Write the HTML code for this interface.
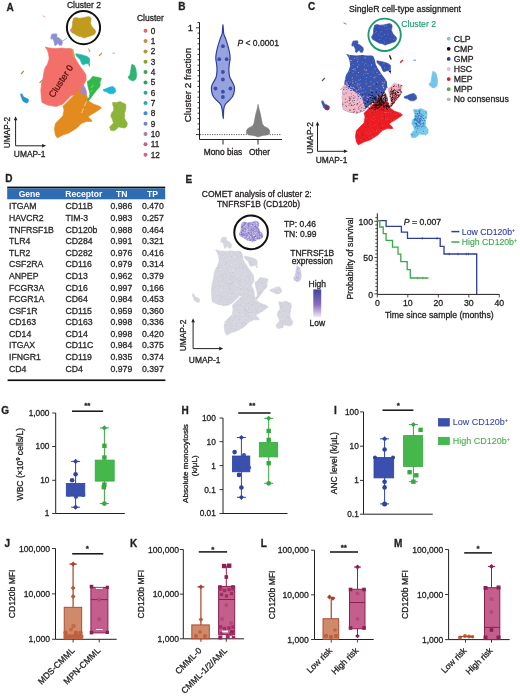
<!DOCTYPE html>
<html><head><meta charset="utf-8"><style>
html,body{margin:0;padding:0;background:#fff;width:520px;height:696px;overflow:hidden}
svg{display:block;filter:blur(0.4px)}
text{font-family:"Liberation Sans",sans-serif}
.s text,text.s{stroke:#231f20;stroke-width:0.3}
.b{font-weight:bold}
</style></head><body>
<svg width="520" height="696" viewBox="0 0 520 696" fill="#231f20" class="s">
<defs>
<path id="c0" d="M45.2,46.9 L49.2,48 L55.4,48.6 L61.5,48 L65.4,48.6 L70.8,48.4 L72.5,49.4 L73.8,53 L74.8,57.5 L76.8,61.2 L78.5,63.8 L80.2,66.4 L82.2,69.2 L84.2,71.9 L85.9,74.6 L86.2,80 L84.6,83 L82.3,87 L80.8,91.7 L79,93.7 L71,95.8 L62.9,104 L56.2,106.5 L48,105.2 L42,102.5 L41.3,97.7 L40.8,90 L41.5,84 L43.2,77 L44.1,70.9 L45.2,67.4 L47,65.1 L48.1,62.2 L49,59.3 L49,57 L48.4,53.6 L47.6,50.7 Z"/>
<path id="c1" d="M63,106.2 L68.8,100.4 L76.5,92.7 L81.3,86.9 L83.5,88 L85.5,92 L87.1,96.5 L88,100.4 L93.8,104.2 L99.6,106.2 L101.5,108 L95.8,111.9 L91,114.8 L88,116.7 L91,119.6 L92,121.5 L86.2,121.5 L81.3,123.5 L76.5,128.3 L68.8,133.1 L63,135 L57.3,137.9 L55.4,135 L54.4,129.2 L55.4,123.5 L59.2,119.6 L63,115.8 L64,110 Z"/>
<path id="c2" d="M73.5,18.2 L75.8,17.6 L79.1,18.2 L82.3,17.9 L85.6,17.2 L88.5,16.6 L90.5,17.2 L91.2,18.9 L90.8,21.2 L90.5,23.4 L91.5,25.7 L92.8,27.7 L94.8,29.6 L95.7,31.6 L95.1,33.6 L93.5,34.9 L91.5,35.5 L88.9,36.5 L86.3,37.2 L84.6,38.1 L83.3,37.8 L82.3,37.2 L80.4,36.5 L78.4,36.2 L76.5,35.2 L74.5,33.9 L72.5,32.9 L70.9,31.6 L70.6,29.6 L71.9,27.7 L72.5,25.1 L72.5,22.5 L73.2,19.8 Z"/>
<path id="c3" d="M112.7,102.3 L116.2,102.7 L120,101.5 L123.1,103.1 L125.8,104.2 L125.8,109.2 L124.6,113.1 L124.6,118.5 L127.3,123.1 L126.9,126.2 L124.6,128.1 L122.3,127.7 L118.5,126.9 L116.5,129.2 L113.8,130.8 L110.8,130.4 L109.6,126.9 L111.5,125 L113.5,123.1 L112.3,119.2 L110.8,116.2 L111.5,113.1 L113.5,110.8 L113.8,107.7 L112.7,104.6 Z"/>
<path id="c4" d="M92.8,76.3 L95.7,76.9 L99.1,77.5 L101.4,78.4 L100.9,80.1 L100,82.4 L100.3,85.3 L99.1,87.6 L96.8,89.9 L95.1,92.2 L93.3,94.5 L91.6,96.9 L89.9,99.2 L88.1,100.9 L87.6,99.2 L89.3,96.9 L89.9,94 L89.3,91.1 L88.4,88.2 L87.6,84.7 L87.3,81.2 L88.7,80.7 L90.2,79.5 L91.6,77.8 Z"/>
<path id="c5" d="M131.9,64.2 L134.6,65.6 L136,69.6 L136.6,75 L136,79 L133.3,81 L131.2,80.4 L129.2,79 L127.9,77 L129.9,75 L130.6,71 L131.2,66.9 Z"/>
<path id="c6" d="M75.8,53.7 L80.2,54.4 L84.2,55.4 L87.6,56.8 L89.6,58.5 L89.6,61.2 L89.3,63.2 L89.6,66.5 L88.3,63.8 L85.6,63.8 L82.9,64.9 L81.5,63.2 L80.2,59.8 L78.2,57.8 L76.2,55.8 Z"/>
<path id="c7" d="M103,89.8 L106.3,88.5 L109.7,87.1 L113.1,86.4 L115.1,88.5 L115.8,91.8 L113.1,93.8 L109.7,93.8 L106.3,91.8 L103.6,91.1 Z"/>
<path id="c8" d="M20.8,93.8 L22.3,94.2 L23.5,96.9 L26.2,98.1 L28.5,99.6 L28.1,102.3 L26.2,103.1 L24.2,101.9 L22.7,100.8 L21.9,98.5 L20.8,95.8 Z"/>
<path id="c9" d="M52.2,34 L56.5,33.8 L57.1,35.5 L56.5,36.8 L58.2,37.6 L60.3,38.9 L62,40.6 L62.4,42.7 L61.6,45.3 L59.4,45.3 L58.6,43.6 L56.9,44 L55.6,45.7 L54.4,44.8 L54.4,42.7 L53.5,40.2 L52.2,38.5 L51,39.3 L50.8,37.6 L51.4,35.5 Z"/>
<path id="c10" d="M82.9,84.7 L84.7,87 L86.1,90.5 L86.7,93.4 L85.2,94.5 L82.9,94.5 L81.2,93.4 L80.6,91.1 L81.5,87.6 Z"/>
</defs>

<!-- ===== Panel A ===== -->
<g id="pA">
<text class="b" x="6.5" y="10.5" font-size="10">A</text>
<g stroke-linejoin="round" stroke-width="0.6">
<use href="#c0" fill="#f3706a" stroke="#f3706a"/>
<use href="#c1" fill="#e38b1f" stroke="#e38b1f"/>
<use href="#c2" fill="#c09b1e" stroke="#c09b1e"/>
<use href="#c3" fill="#8cb33a" stroke="#8cb33a"/>
<use href="#c4" fill="#30b848" stroke="#30b848"/>
<use href="#c5" fill="#2fb475" stroke="#2fb475"/>
<use href="#c6" fill="#22b6a2" stroke="#22b6a2"/>
<use href="#c7" fill="#1cb6d8" stroke="#1cb6d8"/>
<use href="#c8" fill="#2494cf" stroke="#2494cf"/>
<use href="#c9" fill="#8a90d6" stroke="#8a90d6"/>
<use href="#c10" fill="#a984cc" stroke="#a984cc"/>
</g>
<path d="M62,41.5 L67,38" stroke="#8a90d6" stroke-width="0.7"/>
<ellipse cx="71.8" cy="30.3" rx="1.4" ry="1.3" fill="#e88098"/>
<path d="M91,88 L93.5,85 M90.5,92 L92.5,90" stroke="#80d870" stroke-width="1"/>
<path d="M72.5,49 L74,57" stroke="#a8c040" stroke-width="1.6"/>
<path d="M86.5,101.5 L84.5,106 M83.5,108.5 L81.5,113" stroke="#fff" stroke-width="0.7" opacity="0.8"/>
<path d="M88.5,48.5 L90,52" stroke="#c08a50" stroke-width="1"/>
<path d="M99,56 L102,52.8" stroke="#e38b1f" stroke-width="1.2"/>
<path d="M112.5,53.2 L115,53.2" stroke="#e090a0" stroke-width="0.9"/>
<path d="M21,74 L23.8,71" stroke="#9a9a50" stroke-width="1.1"/>
<path d="M39.5,83 L42.3,80.2" stroke="#9a9a40" stroke-width="1.1"/>
<path d="M42.5,15.8 L45.5,17.2" stroke="#e8a0b8" stroke-width="0.8"/>
<circle cx="83.5" cy="27.6" r="16.6" fill="none" stroke="#111" stroke-width="2"/>
<text x="84" y="7.8" font-size="8.5" text-anchor="middle">Cluster 2</text>
<text font-size="9.2" transform="translate(53.6,98.2) rotate(-57)" fill="#5a1414" style="stroke:#5a1414">Cluster 0</text>
<!-- axes -->
<path d="M15.6,145.8 V119.5 M15.6,145.8 H43" stroke="#222" stroke-width="1"/>
<path d="M15.6,116.3 L13.8,120.3 L17.4,120.3 Z M46.1,145.8 L42.1,144 L42.1,147.6 Z" fill="#222"/>
<text font-size="8.3" transform="translate(9.7,132.5) rotate(-90)" text-anchor="middle">UMAP-2</text>
<text x="29.7" y="156.7" font-size="8.4" text-anchor="middle">UMAP-1</text>
<!-- legend -->
<text x="136.9" y="21.2" font-size="8.5">Cluster</text>
<g font-size="8.2">
<circle cx="145.5" cy="30.7" r="2" fill="#e06870"/><text x="150.7" y="33.6">0</text>
<circle cx="145.5" cy="41.0" r="2" fill="#d08840"/><text x="150.7" y="43.9">1</text>
<circle cx="145.5" cy="51.4" r="2" fill="#a89848"/><text x="150.7" y="54.3">2</text>
<circle cx="145.5" cy="61.7" r="2" fill="#88a034"/><text x="150.7" y="64.6">3</text>
<circle cx="145.5" cy="72.0" r="2" fill="#40a050"/><text x="150.7" y="74.9">4</text>
<circle cx="145.5" cy="82.4" r="2" fill="#30a064"/><text x="150.7" y="85.3">5</text>
<circle cx="145.5" cy="92.7" r="2" fill="#30a896"/><text x="150.7" y="95.6">6</text>
<circle cx="145.5" cy="103.0" r="2" fill="#20acbc"/><text x="150.7" y="105.9">7</text>
<circle cx="145.5" cy="113.3" r="2" fill="#3a90d0"/><text x="150.7" y="116.2">8</text>
<circle cx="145.5" cy="123.7" r="2" fill="#7880c8"/><text x="150.7" y="126.6">9</text>
<circle cx="145.5" cy="134.0" r="2" fill="#a080a8"/><text x="150.7" y="136.9">10</text>
<circle cx="145.5" cy="144.3" r="2" fill="#c06090"/><text x="150.7" y="147.2">11</text>
<circle cx="145.5" cy="154.7" r="2" fill="#c86890"/><text x="150.7" y="157.6">12</text>
</g>
</g>

<!-- ===== Panel B ===== -->
<g id="pB">
<text class="b" x="178.3" y="10" font-size="10">B</text>
<path d="M199.5,22.4 V139.5 H282 M258,139.5 V144.5 M223,139.5 V144.5" stroke="#231f20" stroke-width="1" fill="none"/>
<path stroke="#231f20" stroke-width="0.9" d="M196,27.8 H199.5 M196,134.6 H199.5 M197.5,22.5 H199.5 M197.5,33.1 H199.5 M197.5,38.5 H199.5 M197.5,43.8 H199.5 M197.5,49.1 H199.5 M197.5,54.5 H199.5 M197.5,59.8 H199.5 M197.5,65.2 H199.5 M197.5,70.5 H199.5 M197.5,75.8 H199.5 M197.5,81.2 H199.5 M197.5,86.5 H199.5 M197.5,91.9 H199.5 M197.5,97.2 H199.5 M197.5,102.5 H199.5 M197.5,107.9 H199.5 M197.5,113.2 H199.5 M197.5,118.6 H199.5 M197.5,123.9 H199.5 M197.5,129.2 H199.5"/>
<text x="193" y="31.3" font-size="9.5" text-anchor="end">1</text>
<text font-size="9.9" transform="translate(190.5,85) rotate(-90)" text-anchor="middle">Cluster 2 fraction</text>
<line x1="200" y1="134.6" x2="281" y2="134.6" stroke="#333" stroke-width="0.8" stroke-dasharray="1.2,1.2"/>
<!-- violin mono -->
<path d="M222.95,24.50 C223.20,24.50 223.21,31.02 223.70,33.50 C224.19,35.98 225.15,37.17 225.90,39.40 C226.65,41.63 227.57,44.53 228.20,46.90 C228.83,49.27 229.38,51.60 229.70,53.60 C230.02,55.60 230.18,57.03 230.10,58.90 C230.02,60.77 229.40,62.82 229.20,64.80 C229.00,66.78 228.82,68.80 228.90,70.80 C228.98,72.80 229.20,75.05 229.70,76.80 C230.20,78.55 231.17,79.80 231.90,81.30 C232.63,82.80 233.68,84.30 234.10,85.80 C234.52,87.30 234.63,88.57 234.40,90.30 C234.17,92.03 233.62,94.47 232.70,96.20 C231.78,97.93 230.15,99.32 228.90,100.70 C227.65,102.08 226.07,103.00 225.20,104.50 C224.33,106.00 224.02,107.33 223.70,109.70 C223.38,112.07 223.55,118.70 223.30,118.70 C223.05,118.70 222.63,112.07 222.20,109.70 C221.77,107.33 221.57,106.00 220.70,104.50 C219.83,103.00 218.25,102.08 217.00,100.70 C215.75,99.32 214.12,97.93 213.20,96.20 C212.28,94.47 211.73,92.03 211.50,90.30 C211.27,88.57 211.38,87.30 211.80,85.80 C212.22,84.30 213.27,82.80 214.00,81.30 C214.73,79.80 215.70,78.55 216.20,76.80 C216.70,75.05 216.92,72.80 217.00,70.80 C217.08,68.80 216.90,66.78 216.70,64.80 C216.50,62.82 215.88,60.77 215.80,58.90 C215.72,57.03 215.88,55.60 216.20,53.60 C216.52,51.60 217.07,49.27 217.70,46.90 C218.33,44.53 219.25,41.63 220.00,39.40 C220.75,37.17 221.71,35.98 222.20,33.50 C222.69,31.02 222.70,24.50 222.95,24.50 Z" fill="#97a3de" stroke="#2e3e9e" stroke-width="1.2"/>
<g fill="#3a4cae">
<circle cx="222.9" cy="46.2" r="1.9"/><circle cx="219.2" cy="59.2" r="1.9"/><circle cx="226.7" cy="59.2" r="1.9"/><circle cx="222.9" cy="72" r="1.9"/><circle cx="222.9" cy="79.5" r="1.9"/><circle cx="215.5" cy="88.5" r="1.9"/><circle cx="230.4" cy="88.5" r="1.9"/><circle cx="222.9" cy="91.7" r="1.9"/><circle cx="222.9" cy="97" r="1.9"/>
</g>
<!-- violin other -->
<path d="M258.1,104.3 L259.2,109.4 L260.5,114.2 L261.4,119 L262.4,123.8 L264,126.3 L266.7,127.4 L268.6,128.8 L269.8,130.8 L269.6,133.6 L267,134.9 L263,135.4 L260,136.2 L258.1,137 L256.2,136.2 L253.2,135.4 L249.2,134.9 L246.6,133.6 L246.4,130.8 L247.6,128.8 L249.5,127.4 L252.2,126.3 L253.8,123.8 L254.8,119 L255.7,114.2 L257,109.4 Z" fill="#808080" stroke="#767676" stroke-width="0.5"/>
<text x="223" y="155.2" font-size="8.4" text-anchor="middle">Mono bias</text>
<text x="259.5" y="155.2" font-size="8.4" text-anchor="middle">Other</text>
<text x="237.5" y="46" font-size="8.5"><tspan font-style="italic">P</tspan> &lt; 0.0001</text>
</g>

<!-- ===== Panel C ===== -->
<g id="pC">
<text class="b" x="307.9" y="10.4" font-size="10">C</text>
<text x="349" y="11.7" font-size="8.7">SingleR cell-type assignment</text>
<text x="401.3" y="27" font-size="8.7" fill="#1a9a70" style="stroke:#1a9a70;stroke-width:0.15">Cluster 2</text>
<g transform="translate(301,7)" stroke-linejoin="round" stroke-width="0.6">
<clipPath id="clc0"><use href="#c0"/></clipPath>
<clipPath id="clc1"><use href="#c1"/></clipPath>
<use href="#c2" fill="#3551ad" stroke="#3551ad"/>
<use href="#c9" fill="#3a55ae" stroke="#3a55ae"/>
<use href="#c6" fill="#3551ad" stroke="#3551ad"/>
<g clip-path="url(#clc0)">
<rect x="38" y="44" width="50" height="65" fill="#3a55b0"/>
<path d="M30,68 L44,77.6 L52,83.4 L60,89 L62.4,95 L64,100 L66,112 L30,112 Z" fill="#f2b8c8"/>
</g>
<use href="#c1" fill="#ec1c24" stroke="#ec1c24"/>
<use href="#c4" fill="#e8b0c0" stroke="#e8b0c0"/>
<use href="#c10" fill="#3a2a34" stroke="#3a2a34"/>
<use href="#c7" fill="#3a58b0" stroke="#3a58b0"/>
<use href="#c3" fill="#72c4e8" stroke="#72c4e8"/>
<use href="#c5" fill="#72c4e8" stroke="#72c4e8"/>
<use href="#c8" fill="#3a55ae" stroke="#3a55ae"/>
<circle cx="26" cy="101" r="2.2" fill="#8a3050"/>
<path d="M88.5,48.3 L90.2,52.5" stroke="#111" stroke-width="1.3"/><path d="M21,74 L23.8,71" stroke="#3551ad" stroke-width="1.1"/><path d="M42.5,15.8 L45.5,17.2" stroke="#5a70b8" stroke-width="0.9"/><path d="M39.5,83 L42.3,80.2" stroke="#e8a0b8" stroke-width="1.1"/><circle cx="88.9" cy="64.3" r="0.9" fill="#111"/><path d="M112.4,53.2 L115,53.2" stroke="#40b0c8" stroke-width="1.1"/><path d="M99.2,55.8 L101.8,53" stroke="#e02030" stroke-width="1.3"/>
<!-- CDOTS START -->
<path fill="#1a1418" d="M76.9,88.6h0.9v0.9h-0.9zM64.6,99.1h0.9v0.9h-0.9zM63.7,96.7h0.9v0.9h-0.9zM77.0,91.5h0.9v0.9h-0.9zM66.7,99.8h0.9v0.9h-0.9zM77.2,90.9h0.9v0.9h-0.9zM78.2,93.0h0.9v0.9h-0.9zM75.5,93.4h0.9v0.9h-0.9zM74.1,93.2h0.9v0.9h-0.9zM69.6,96.1h0.9v0.9h-0.9zM66.9,91.5h0.9v0.9h-0.9zM59.4,103.4h0.9v0.9h-0.9zM70.7,93.9h0.9v0.9h-0.9zM78.1,93.8h0.9v0.9h-0.9zM68.8,97.6h0.9v0.9h-0.9zM74.3,91.2h0.9v0.9h-0.9zM76.4,89.1h0.9v0.9h-0.9zM64.5,96.0h0.9v0.9h-0.9zM72.7,94.9h0.9v0.9h-0.9zM78.0,89.0h0.9v0.9h-0.9zM65.7,94.8h0.9v0.9h-0.9zM72.1,95.1h0.9v0.9h-0.9zM68.7,90.1h0.9v0.9h-0.9zM73.1,92.4h0.9v0.9h-0.9zM71.2,91.0h0.9v0.9h-0.9zM75.7,92.8h0.9v0.9h-0.9zM74.9,76.5h0.9v0.9h-0.9zM65.8,93.9h0.9v0.9h-0.9zM67.8,93.6h0.9v0.9h-0.9zM74.9,84.8h0.9v0.9h-0.9zM71.9,89.2h0.9v0.9h-0.9zM76.8,87.6h0.9v0.9h-0.9zM70.8,95.0h0.9v0.9h-0.9zM69.6,88.1h0.9v0.9h-0.9zM68.2,96.0h0.9v0.9h-0.9zM69.4,90.1h0.9v0.9h-0.9zM73.6,89.8h0.9v0.9h-0.9zM78.5,93.7h0.9v0.9h-0.9zM67.8,94.6h0.9v0.9h-0.9zM74.7,91.8h0.9v0.9h-0.9zM70.9,92.6h0.9v0.9h-0.9zM77.3,94.1h0.9v0.9h-0.9zM67.5,96.3h0.9v0.9h-0.9zM69.5,94.8h0.9v0.9h-0.9zM73.3,91.5h0.9v0.9h-0.9zM73.5,91.6h0.9v0.9h-0.9zM79.4,90.3h0.9v0.9h-0.9zM67.6,87.3h0.9v0.9h-0.9zM74.1,89.8h0.9v0.9h-0.9zM73.4,90.4h0.9v0.9h-0.9zM77.4,87.5h0.9v0.9h-0.9zM76.9,90.8h0.9v0.9h-0.9zM68.8,93.4h0.9v0.9h-0.9zM72.5,93.4h0.9v0.9h-0.9zM73.2,90.3h0.9v0.9h-0.9zM70.1,96.5h0.9v0.9h-0.9zM72.4,91.0h0.9v0.9h-0.9zM74.5,89.5h0.9v0.9h-0.9zM75.6,93.0h0.9v0.9h-0.9zM69.6,96.5h0.9v0.9h-0.9zM80.0,85.0h0.9v0.9h-0.9zM63.6,92.7h0.9v0.9h-0.9zM71.1,88.0h0.9v0.9h-0.9zM60.3,100.4h0.9v0.9h-0.9zM72.8,90.3h0.9v0.9h-0.9zM81.6,86.5h0.9v0.9h-0.9zM66.7,99.9h0.9v0.9h-0.9zM73.7,91.3h0.9v0.9h-0.9zM70.2,93.4h0.9v0.9h-0.9zM72.5,94.4h0.9v0.9h-0.9zM76.7,93.9h0.9v0.9h-0.9zM72.0,94.2h0.9v0.9h-0.9zM72.8,94.3h0.9v0.9h-0.9zM79.9,92.2h0.9v0.9h-0.9zM71.3,85.1h0.9v0.9h-0.9zM66.3,94.9h0.9v0.9h-0.9zM74.6,84.5h0.9v0.9h-0.9zM77.5,93.9h0.9v0.9h-0.9zM67.4,93.7h0.9v0.9h-0.9zM69.9,84.9h0.9v0.9h-0.9zM72.9,90.1h0.9v0.9h-0.9zM90.5,91.4h0.9v0.9h-0.9zM89.1,84.3h0.9v0.9h-0.9zM95.7,84.0h0.9v0.9h-0.9zM91.2,89.8h0.9v0.9h-0.9zM93.7,83.1h0.9v0.9h-0.9zM97.1,79.4h0.9v0.9h-0.9zM93.1,94.5h0.9v0.9h-0.9zM91.0,92.1h0.9v0.9h-0.9zM89.8,92.2h0.9v0.9h-0.9zM95.3,91.8h0.9v0.9h-0.9zM91.0,97.1h0.9v0.9h-0.9zM95.7,87.4h0.9v0.9h-0.9zM92.6,95.2h0.9v0.9h-0.9zM96.8,82.5h0.9v0.9h-0.9zM89.4,87.5h0.9v0.9h-0.9zM90.9,94.7h0.9v0.9h-0.9zM92.1,79.1h0.9v0.9h-0.9zM97.4,88.8h0.9v0.9h-0.9zM94.4,87.0h0.9v0.9h-0.9zM91.8,90.0h0.9v0.9h-0.9zM93.2,90.7h0.9v0.9h-0.9zM90.4,97.4h0.9v0.9h-0.9zM99.3,84.3h0.9v0.9h-0.9zM94.7,85.9h0.9v0.9h-0.9zM91.6,88.2h0.9v0.9h-0.9zM91.1,85.7h0.9v0.9h-0.9zM96.6,90.1h0.9v0.9h-0.9zM88.3,98.7h0.9v0.9h-0.9zM90.9,84.1h0.9v0.9h-0.9zM88.8,89.0h0.9v0.9h-0.9zM89.6,84.5h0.9v0.9h-0.9zM94.0,90.8h0.9v0.9h-0.9zM97.2,79.4h0.9v0.9h-0.9zM90.1,86.3h0.9v0.9h-0.9zM93.2,91.8h0.9v0.9h-0.9zM94.5,90.5h0.9v0.9h-0.9zM92.5,95.5h0.9v0.9h-0.9zM93.1,82.2h0.9v0.9h-0.9zM100.2,84.5h0.9v0.9h-0.9zM89.6,80.4h0.9v0.9h-0.9zM92.2,95.0h0.9v0.9h-0.9zM92.7,94.7h0.9v0.9h-0.9zM96.8,88.1h0.9v0.9h-0.9zM90.9,89.7h0.9v0.9h-0.9zM90.0,90.3h0.9v0.9h-0.9zM99.7,78.1h0.9v0.9h-0.9zM91.8,90.9h0.9v0.9h-0.9zM93.1,78.4h0.9v0.9h-0.9zM93.8,84.8h0.9v0.9h-0.9zM90.2,93.5h0.9v0.9h-0.9zM91.4,89.0h0.9v0.9h-0.9zM97.1,85.1h0.9v0.9h-0.9zM95.8,90.2h0.9v0.9h-0.9zM88.8,98.5h0.9v0.9h-0.9zM87.8,99.0h0.9v0.9h-0.9zM89.7,82.9h0.9v0.9h-0.9zM94.3,86.6h0.9v0.9h-0.9zM90.4,98.0h0.9v0.9h-0.9zM92.9,92.4h0.9v0.9h-0.9zM98.5,87.1h0.9v0.9h-0.9zM93.5,90.2h0.9v0.9h-0.9zM91.2,86.0h0.9v0.9h-0.9zM92.2,83.5h0.9v0.9h-0.9zM91.1,93.4h0.9v0.9h-0.9zM91.9,85.6h0.9v0.9h-0.9zM98.7,87.3h0.9v0.9h-0.9zM99.5,85.7h0.9v0.9h-0.9zM92.2,83.1h0.9v0.9h-0.9zM88.9,86.4h0.9v0.9h-0.9zM94.4,89.0h0.9v0.9h-0.9zM91.6,96.0h0.9v0.9h-0.9zM90.9,83.7h0.9v0.9h-0.9zM94.0,85.4h0.9v0.9h-0.9zM89.9,93.0h0.9v0.9h-0.9zM90.4,94.1h0.9v0.9h-0.9zM91.9,90.1h0.9v0.9h-0.9zM88.5,99.7h0.9v0.9h-0.9zM90.6,93.2h0.9v0.9h-0.9zM91.5,84.5h0.9v0.9h-0.9zM90.6,96.0h0.9v0.9h-0.9zM89.8,80.6h0.9v0.9h-0.9zM91.5,83.5h0.9v0.9h-0.9zM89.6,91.2h0.9v0.9h-0.9zM88.9,86.8h0.9v0.9h-0.9zM90.0,81.9h0.9v0.9h-0.9zM94.9,88.1h0.9v0.9h-0.9zM93.6,93.6h0.9v0.9h-0.9zM93.0,94.7h0.9v0.9h-0.9zM92.9,94.7h0.9v0.9h-0.9zM96.6,85.1h0.9v0.9h-0.9zM93.8,87.3h0.9v0.9h-0.9zM92.2,94.5h0.9v0.9h-0.9zM90.9,90.0h0.9v0.9h-0.9zM97.1,79.4h0.9v0.9h-0.9zM93.7,85.6h0.9v0.9h-0.9zM92.6,86.3h0.9v0.9h-0.9zM90.2,96.2h0.9v0.9h-0.9zM98.0,82.5h0.9v0.9h-0.9zM89.7,97.7h0.9v0.9h-0.9zM93.7,86.2h0.9v0.9h-0.9zM93.2,88.5h0.9v0.9h-0.9zM97.4,87.9h0.9v0.9h-0.9zM98.9,83.1h0.9v0.9h-0.9zM92.1,85.4h0.9v0.9h-0.9zM91.0,93.2h0.9v0.9h-0.9zM96.9,88.9h0.9v0.9h-0.9zM91.2,87.1h0.9v0.9h-0.9zM90.2,84.5h0.9v0.9h-0.9zM97.8,88.6h0.9v0.9h-0.9zM93.9,93.2h0.9v0.9h-0.9zM92.6,92.4h0.9v0.9h-0.9zM90.2,98.2h0.9v0.9h-0.9zM95.8,84.9h0.9v0.9h-0.9zM97.0,77.5h0.9v0.9h-0.9zM92.5,85.7h0.9v0.9h-0.9zM98.8,79.4h0.9v0.9h-0.9z"/>
<path fill="#7f93d6" d="M47.7,76.0h0.8v0.8h-0.8zM64.2,83.7h0.8v0.8h-0.8zM78.0,91.0h0.8v0.8h-0.8zM46.7,47.7h0.8v0.8h-0.8zM48.6,75.1h0.8v0.8h-0.8zM58.9,75.9h0.8v0.8h-0.8zM72.9,84.8h0.8v0.8h-0.8zM62.5,87.6h0.8v0.8h-0.8zM62.2,67.4h0.8v0.8h-0.8zM55.3,68.5h0.8v0.8h-0.8zM63.8,65.9h0.8v0.8h-0.8zM76.3,89.5h0.8v0.8h-0.8zM75.9,88.6h0.8v0.8h-0.8zM55.0,84.3h0.8v0.8h-0.8zM60.3,84.9h0.8v0.8h-0.8zM63.2,50.4h0.8v0.8h-0.8zM63.7,63.1h0.8v0.8h-0.8zM70.5,94.1h0.8v0.8h-0.8zM81.0,79.4h0.8v0.8h-0.8zM73.5,61.3h0.8v0.8h-0.8zM57.3,85.3h0.8v0.8h-0.8zM49.4,58.4h0.8v0.8h-0.8zM71.5,64.7h0.8v0.8h-0.8zM57.7,82.4h0.8v0.8h-0.8zM78.9,83.3h0.8v0.8h-0.8zM57.0,82.3h0.8v0.8h-0.8zM59.0,80.4h0.8v0.8h-0.8zM68.6,95.0h0.8v0.8h-0.8zM62.8,94.1h0.8v0.8h-0.8zM51.8,57.2h0.8v0.8h-0.8zM61.4,54.7h0.8v0.8h-0.8zM64.2,73.4h0.8v0.8h-0.8zM71.5,83.2h0.8v0.8h-0.8zM64.9,61.9h0.8v0.8h-0.8zM49.2,79.9h0.8v0.8h-0.8zM62.0,81.3h0.8v0.8h-0.8zM53.2,76.7h0.8v0.8h-0.8zM43.9,75.8h0.8v0.8h-0.8zM49.3,78.9h0.8v0.8h-0.8zM43.5,76.8h0.8v0.8h-0.8zM56.9,76.5h0.8v0.8h-0.8zM59.3,80.1h0.8v0.8h-0.8zM61.7,85.1h0.8v0.8h-0.8zM57.7,86.6h0.8v0.8h-0.8zM71.6,53.7h0.8v0.8h-0.8zM69.5,69.3h0.8v0.8h-0.8zM51.2,70.3h0.8v0.8h-0.8zM56.8,52.5h0.8v0.8h-0.8zM51.3,73.1h0.8v0.8h-0.8zM82.8,74.4h0.8v0.8h-0.8zM66.7,57.7h0.8v0.8h-0.8zM59.2,72.0h0.8v0.8h-0.8zM64.1,55.9h0.8v0.8h-0.8zM46.2,77.1h0.8v0.8h-0.8zM47.3,74.3h0.8v0.8h-0.8zM72.2,70.3h0.8v0.8h-0.8zM73.8,62.2h0.8v0.8h-0.8zM49.2,55.0h0.8v0.8h-0.8zM59.5,79.3h0.8v0.8h-0.8zM67.3,90.0h0.8v0.8h-0.8zM58.1,86.9h0.8v0.8h-0.8zM49.7,77.8h0.8v0.8h-0.8zM55.6,85.3h0.8v0.8h-0.8zM44.9,74.4h0.8v0.8h-0.8zM48.0,64.3h0.8v0.8h-0.8zM57.5,57.6h0.8v0.8h-0.8zM54.5,81.8h0.8v0.8h-0.8zM61.8,89.4h0.8v0.8h-0.8zM51.6,65.1h0.8v0.8h-0.8zM82.6,75.8h0.8v0.8h-0.8zM53.6,63.1h0.8v0.8h-0.8zM58.3,79.8h0.8v0.8h-0.8zM75.4,88.2h0.8v0.8h-0.8zM46.4,67.5h0.8v0.8h-0.8zM63.0,57.4h0.8v0.8h-0.8zM67.6,96.1h0.8v0.8h-0.8zM57.5,81.6h0.8v0.8h-0.8zM86.0,80.1h0.8v0.8h-0.8zM52.6,61.4h0.8v0.8h-0.8zM64.9,70.1h0.8v0.8h-0.8z"/>
<path fill="#1a1418" d="M42.6,86.7h0.7v0.7h-0.7zM58.5,98.8h0.7v0.7h-0.7zM56.4,96.5h0.7v0.7h-0.7zM52.8,104.2h0.7v0.7h-0.7zM49.2,102.7h0.7v0.7h-0.7zM48.1,102.7h0.7v0.7h-0.7zM48.1,93.5h0.7v0.7h-0.7zM57.5,79.7h0.7v0.7h-0.7zM48.4,91.3h0.7v0.7h-0.7zM45.8,94.6h0.7v0.7h-0.7zM49.1,95.7h0.7v0.7h-0.7zM55.1,104.8h0.7v0.7h-0.7zM48.2,78.8h0.7v0.7h-0.7zM52.0,82.6h0.7v0.7h-0.7zM53.2,97.2h0.7v0.7h-0.7zM55.8,80.8h0.7v0.7h-0.7zM50.3,96.9h0.7v0.7h-0.7zM61.4,87.6h0.7v0.7h-0.7zM47.8,93.2h0.7v0.7h-0.7zM49.5,91.5h0.7v0.7h-0.7zM48.7,92.5h0.7v0.7h-0.7zM63.5,86.7h0.7v0.7h-0.7zM47.7,98.4h0.7v0.7h-0.7zM56.9,84.4h0.7v0.7h-0.7zM55.9,95.9h0.7v0.7h-0.7zM57.6,101.7h0.7v0.7h-0.7zM49.2,76.7h0.7v0.7h-0.7zM57.1,100.5h0.7v0.7h-0.7zM52.1,102.1h0.7v0.7h-0.7zM53.1,75.9h0.7v0.7h-0.7zM53.6,101.9h0.7v0.7h-0.7zM49.9,97.9h0.7v0.7h-0.7zM51.7,98.0h0.7v0.7h-0.7zM52.5,95.4h0.7v0.7h-0.7zM44.4,98.4h0.7v0.7h-0.7zM55.7,97.5h0.7v0.7h-0.7zM47.8,79.1h0.7v0.7h-0.7zM59.5,103.8h0.7v0.7h-0.7zM59.6,97.5h0.7v0.7h-0.7zM53.4,101.7h0.7v0.7h-0.7zM44.1,91.8h0.7v0.7h-0.7zM48.7,90.5h0.7v0.7h-0.7zM43.9,95.1h0.7v0.7h-0.7zM52.2,105.2h0.7v0.7h-0.7zM45.2,99.1h0.7v0.7h-0.7zM47.8,96.5h0.7v0.7h-0.7zM56.5,105.0h0.7v0.7h-0.7zM52.7,93.4h0.7v0.7h-0.7zM41.7,96.8h0.7v0.7h-0.7zM41.5,96.8h0.7v0.7h-0.7zM49.9,98.2h0.7v0.7h-0.7zM51.3,93.5h0.7v0.7h-0.7zM56.6,76.7h0.7v0.7h-0.7zM47.6,75.5h0.7v0.7h-0.7z"/>
<path fill="#f2b8c8" d="M51.4,75.8h0.8v0.8h-0.8zM56.7,79.6h0.8v0.8h-0.8zM55.6,77.8h0.8v0.8h-0.8zM47.2,78.1h0.8v0.8h-0.8zM80.9,75.2h0.8v0.8h-0.8zM51.4,75.2h0.8v0.8h-0.8zM85.0,81.7h0.8v0.8h-0.8zM50.7,70.7h0.8v0.8h-0.8zM46.0,78.5h0.8v0.8h-0.8zM72.6,76.6h0.8v0.8h-0.8zM69.5,74.5h0.8v0.8h-0.8zM76.3,89.4h0.8v0.8h-0.8zM53.6,61.5h0.8v0.8h-0.8zM68.4,93.5h0.8v0.8h-0.8zM81.0,78.0h0.8v0.8h-0.8zM78.9,66.8h0.8v0.8h-0.8zM68.6,89.1h0.8v0.8h-0.8zM77.6,66.9h0.8v0.8h-0.8zM49.1,53.0h0.8v0.8h-0.8zM64.9,95.5h0.8v0.8h-0.8zM69.4,82.8h0.8v0.8h-0.8zM58.3,86.1h0.8v0.8h-0.8zM65.7,92.2h0.8v0.8h-0.8zM45.7,76.0h0.8v0.8h-0.8zM65.8,89.5h0.8v0.8h-0.8zM56.0,76.4h0.8v0.8h-0.8zM48.2,48.6h0.8v0.8h-0.8zM52.8,51.0h0.8v0.8h-0.8zM74.5,69.5h0.8v0.8h-0.8zM73.1,70.4h0.8v0.8h-0.8zM64.7,76.5h0.8v0.8h-0.8zM59.8,81.7h0.8v0.8h-0.8zM56.0,59.6h0.8v0.8h-0.8zM63.6,97.7h0.8v0.8h-0.8zM61.7,89.3h0.8v0.8h-0.8zM51.1,82.5h0.8v0.8h-0.8zM70.2,57.6h0.8v0.8h-0.8zM49.3,79.5h0.8v0.8h-0.8zM82.1,79.8h0.8v0.8h-0.8zM65.3,63.3h0.8v0.8h-0.8zM66.7,90.3h0.8v0.8h-0.8zM69.4,78.7h0.8v0.8h-0.8zM78.8,86.8h0.8v0.8h-0.8zM45.3,76.8h0.8v0.8h-0.8zM57.8,77.3h0.8v0.8h-0.8zM57.1,65.2h0.8v0.8h-0.8zM57.5,72.7h0.8v0.8h-0.8zM75.6,80.9h0.8v0.8h-0.8zM63.0,61.8h0.8v0.8h-0.8zM54.4,74.4h0.8v0.8h-0.8zM51.9,80.1h0.8v0.8h-0.8zM56.1,54.5h0.8v0.8h-0.8zM51.6,80.3h0.8v0.8h-0.8zM45.5,75.2h0.8v0.8h-0.8zM66.5,66.3h0.8v0.8h-0.8zM55.5,83.1h0.8v0.8h-0.8zM82.3,80.6h0.8v0.8h-0.8zM75.6,65.2h0.8v0.8h-0.8zM75.8,74.7h0.8v0.8h-0.8zM73.2,93.6h0.8v0.8h-0.8zM82.9,75.4h0.8v0.8h-0.8zM67.6,79.2h0.8v0.8h-0.8zM60.9,90.6h0.8v0.8h-0.8zM50.2,80.0h0.8v0.8h-0.8zM50.3,53.3h0.8v0.8h-0.8zM55.5,50.4h0.8v0.8h-0.8zM51.7,62.1h0.8v0.8h-0.8zM81.7,77.6h0.8v0.8h-0.8zM63.9,50.4h0.8v0.8h-0.8zM52.6,81.1h0.8v0.8h-0.8zM84.6,73.1h0.8v0.8h-0.8zM44.2,71.6h0.8v0.8h-0.8z"/>
<path fill="#3551ad" d="M45.6,80.3h0.8v0.8h-0.8zM62.5,103.0h0.8v0.8h-0.8zM49.9,83.1h0.8v0.8h-0.8zM53.6,89.6h0.8v0.8h-0.8zM59.2,91.1h0.8v0.8h-0.8zM57.9,87.7h0.8v0.8h-0.8zM54.7,85.5h0.8v0.8h-0.8zM44.8,79.5h0.8v0.8h-0.8zM49.9,89.2h0.8v0.8h-0.8zM47.4,81.2h0.8v0.8h-0.8zM47.2,80.5h0.8v0.8h-0.8zM56.3,92.4h0.8v0.8h-0.8zM43.5,80.5h0.8v0.8h-0.8zM42.0,82.2h0.8v0.8h-0.8zM62.8,98.4h0.8v0.8h-0.8zM51.9,90.6h0.8v0.8h-0.8zM45.5,82.1h0.8v0.8h-0.8zM50.1,86.4h0.8v0.8h-0.8zM56.9,88.9h0.8v0.8h-0.8zM52.6,91.0h0.8v0.8h-0.8zM42.4,82.1h0.8v0.8h-0.8zM49.0,83.2h0.8v0.8h-0.8zM56.7,90.8h0.8v0.8h-0.8zM61.8,95.9h0.8v0.8h-0.8zM44.8,85.6h0.8v0.8h-0.8zM57.4,89.3h0.8v0.8h-0.8zM53.0,93.2h0.8v0.8h-0.8zM49.1,81.3h0.8v0.8h-0.8zM47.8,89.6h0.8v0.8h-0.8zM58.3,94.8h0.8v0.8h-0.8zM62.2,95.3h0.8v0.8h-0.8zM56.1,87.5h0.8v0.8h-0.8zM52.0,88.0h0.8v0.8h-0.8zM62.7,101.1h0.8v0.8h-0.8z"/>
<path fill="#1a1418" d="M60.9,133.8h0.5v0.5h-0.5zM61.1,128.0h0.5v0.5h-0.5zM66.3,116.7h0.5v0.5h-0.5zM65.8,114.1h0.5v0.5h-0.5zM83.3,110.9h0.5v0.5h-0.5zM56.6,126.8h0.5v0.5h-0.5zM76.2,115.1h0.5v0.5h-0.5zM77.9,103.4h0.5v0.5h-0.5zM67.6,119.4h0.5v0.5h-0.5zM81.6,108.1h0.5v0.5h-0.5zM98.2,108.1h0.5v0.5h-0.5zM55.6,125.6h0.5v0.5h-0.5zM94.6,109.1h0.5v0.5h-0.5zM58.3,133.8h0.5v0.5h-0.5zM93.6,112.0h0.5v0.5h-0.5zM71.5,104.9h0.5v0.5h-0.5zM65.8,130.5h0.5v0.5h-0.5zM81.2,109.0h0.5v0.5h-0.5zM91.9,105.0h0.5v0.5h-0.5zM55.7,128.7h0.5v0.5h-0.5zM83.3,109.2h0.5v0.5h-0.5zM79.8,120.7h0.5v0.5h-0.5zM61.0,126.7h0.5v0.5h-0.5zM62.7,132.2h0.5v0.5h-0.5zM69.8,132.4h0.5v0.5h-0.5zM78.3,116.5h0.5v0.5h-0.5zM67.1,116.2h0.5v0.5h-0.5zM76.7,118.1h0.5v0.5h-0.5zM90.4,121.1h0.5v0.5h-0.5zM66.9,128.0h0.5v0.5h-0.5zM74.1,126.8h0.5v0.5h-0.5zM64.2,120.1h0.5v0.5h-0.5z"/>
<path fill="#1a1418" d="M84.8,96.6h1.0v1.0h-1.0zM81.7,92.5h1.0v1.0h-1.0zM81.5,102.6h1.0v1.0h-1.0zM81.0,92.9h1.0v1.0h-1.0zM78.5,92.7h1.0v1.0h-1.0zM86.0,102.1h1.0v1.0h-1.0zM77.6,94.5h1.0v1.0h-1.0zM75.4,97.7h1.0v1.0h-1.0zM82.2,87.8h1.0v1.0h-1.0zM85.5,93.0h1.0v1.0h-1.0zM71.5,98.1h1.0v1.0h-1.0zM82.7,93.5h1.0v1.0h-1.0zM82.4,87.6h1.0v1.0h-1.0zM79.9,94.6h1.0v1.0h-1.0zM74.5,97.5h1.0v1.0h-1.0zM87.2,100.2h1.0v1.0h-1.0zM76.8,98.0h1.0v1.0h-1.0zM78.3,91.3h1.0v1.0h-1.0zM81.8,96.6h1.0v1.0h-1.0zM81.5,97.8h1.0v1.0h-1.0zM83.0,88.0h1.0v1.0h-1.0zM81.3,94.8h1.0v1.0h-1.0zM78.0,96.5h1.0v1.0h-1.0zM79.9,96.9h1.0v1.0h-1.0zM75.3,96.5h1.0v1.0h-1.0zM85.4,96.6h1.0v1.0h-1.0zM76.1,94.6h1.0v1.0h-1.0zM82.1,89.3h1.0v1.0h-1.0zM77.8,96.0h1.0v1.0h-1.0zM84.7,92.7h1.0v1.0h-1.0zM79.8,91.8h1.0v1.0h-1.0zM76.9,100.5h1.0v1.0h-1.0zM82.2,98.3h1.0v1.0h-1.0zM77.9,91.8h1.0v1.0h-1.0zM84.6,91.3h1.0v1.0h-1.0zM82.2,96.1h1.0v1.0h-1.0zM84.9,92.9h1.0v1.0h-1.0zM79.8,91.6h1.0v1.0h-1.0zM74.7,100.2h1.0v1.0h-1.0zM80.4,88.8h1.0v1.0h-1.0zM83.7,93.7h1.0v1.0h-1.0zM86.9,98.3h1.0v1.0h-1.0zM82.5,90.3h1.0v1.0h-1.0zM73.8,97.1h1.0v1.0h-1.0zM70.5,100.6h1.0v1.0h-1.0zM75.2,96.9h1.0v1.0h-1.0zM81.6,89.0h1.0v1.0h-1.0zM79.2,92.1h1.0v1.0h-1.0zM79.4,92.3h1.0v1.0h-1.0zM80.6,89.3h1.0v1.0h-1.0zM82.9,95.8h1.0v1.0h-1.0zM79.7,101.8h1.0v1.0h-1.0zM82.1,89.3h1.0v1.0h-1.0zM72.0,97.7h1.0v1.0h-1.0zM85.1,100.9h1.0v1.0h-1.0zM86.3,98.3h1.0v1.0h-1.0zM70.5,100.0h1.0v1.0h-1.0zM80.3,92.9h1.0v1.0h-1.0zM81.7,96.9h1.0v1.0h-1.0zM78.4,97.0h1.0v1.0h-1.0zM75.9,101.1h1.0v1.0h-1.0zM84.6,98.1h1.0v1.0h-1.0zM81.4,94.3h1.0v1.0h-1.0zM84.4,94.6h1.0v1.0h-1.0zM85.7,99.0h1.0v1.0h-1.0zM73.1,97.5h1.0v1.0h-1.0zM68.2,101.1h1.0v1.0h-1.0zM79.9,93.3h1.0v1.0h-1.0zM79.7,98.2h1.0v1.0h-1.0zM74.3,101.4h1.0v1.0h-1.0zM84.8,93.7h1.0v1.0h-1.0zM85.0,98.0h1.0v1.0h-1.0zM82.6,88.9h1.0v1.0h-1.0zM73.6,98.4h1.0v1.0h-1.0zM74.8,94.8h1.0v1.0h-1.0zM81.5,87.8h1.0v1.0h-1.0zM76.5,97.3h1.0v1.0h-1.0zM81.4,87.4h1.0v1.0h-1.0zM76.4,94.6h1.0v1.0h-1.0zM78.1,93.8h1.0v1.0h-1.0zM73.7,95.5h1.0v1.0h-1.0zM78.8,94.9h1.0v1.0h-1.0zM84.8,92.4h1.0v1.0h-1.0zM86.3,98.7h1.0v1.0h-1.0zM72.8,97.9h1.0v1.0h-1.0zM83.6,89.9h1.0v1.0h-1.0zM81.8,89.7h1.0v1.0h-1.0zM78.7,97.2h1.0v1.0h-1.0zM78.6,91.8h1.0v1.0h-1.0zM84.7,100.1h1.0v1.0h-1.0zM83.0,89.7h1.0v1.0h-1.0zM80.6,91.3h1.0v1.0h-1.0zM75.3,99.3h1.0v1.0h-1.0zM74.0,100.1h1.0v1.0h-1.0zM81.4,91.7h1.0v1.0h-1.0zM79.7,91.2h1.0v1.0h-1.0zM85.0,99.1h1.0v1.0h-1.0zM79.0,90.9h1.0v1.0h-1.0zM83.0,95.5h1.0v1.0h-1.0zM77.7,99.3h1.0v1.0h-1.0zM84.2,90.8h1.0v1.0h-1.0zM72.7,102.3h1.0v1.0h-1.0zM83.1,92.6h1.0v1.0h-1.0zM87.8,99.9h1.0v1.0h-1.0zM86.4,96.8h1.0v1.0h-1.0zM77.6,94.7h1.0v1.0h-1.0zM87.1,98.9h1.0v1.0h-1.0zM75.7,98.0h1.0v1.0h-1.0zM80.5,94.2h1.0v1.0h-1.0zM85.1,91.6h1.0v1.0h-1.0zM79.6,89.8h1.0v1.0h-1.0zM86.8,95.8h1.0v1.0h-1.0zM80.9,92.7h1.0v1.0h-1.0zM81.1,95.3h1.0v1.0h-1.0zM73.7,98.1h1.0v1.0h-1.0zM78.2,99.6h1.0v1.0h-1.0zM72.9,100.1h1.0v1.0h-1.0zM80.8,90.6h1.0v1.0h-1.0zM78.6,90.4h1.0v1.0h-1.0zM81.4,95.3h1.0v1.0h-1.0zM77.5,93.3h1.0v1.0h-1.0zM84.9,93.7h1.0v1.0h-1.0zM78.8,97.5h1.0v1.0h-1.0zM76.4,100.0h1.0v1.0h-1.0zM84.4,90.2h1.0v1.0h-1.0zM82.2,94.8h1.0v1.0h-1.0zM82.3,99.3h1.0v1.0h-1.0zM77.8,93.1h1.0v1.0h-1.0zM86.5,97.9h1.0v1.0h-1.0zM83.7,93.0h1.0v1.0h-1.0zM79.6,95.9h1.0v1.0h-1.0zM71.8,100.3h1.0v1.0h-1.0zM79.9,88.7h1.0v1.0h-1.0zM86.6,95.8h1.0v1.0h-1.0zM76.9,93.3h1.0v1.0h-1.0zM80.6,88.3h1.0v1.0h-1.0zM77.4,97.0h1.0v1.0h-1.0zM80.4,90.6h1.0v1.0h-1.0zM82.1,92.3h1.0v1.0h-1.0zM70.3,100.9h1.0v1.0h-1.0zM76.6,98.0h1.0v1.0h-1.0zM80.0,93.9h1.0v1.0h-1.0zM81.7,99.3h1.0v1.0h-1.0zM78.2,98.3h1.0v1.0h-1.0zM86.6,98.9h1.0v1.0h-1.0zM84.0,97.9h1.0v1.0h-1.0zM74.1,99.6h1.0v1.0h-1.0zM83.1,90.6h1.0v1.0h-1.0zM83.2,98.4h1.0v1.0h-1.0zM82.1,99.0h1.0v1.0h-1.0zM79.3,96.5h1.0v1.0h-1.0zM78.6,95.6h1.0v1.0h-1.0zM80.3,97.3h1.0v1.0h-1.0zM76.1,95.3h1.0v1.0h-1.0zM82.3,88.8h1.0v1.0h-1.0zM79.3,90.0h1.0v1.0h-1.0zM80.3,88.8h1.0v1.0h-1.0zM73.4,98.7h1.0v1.0h-1.0zM81.3,89.4h1.0v1.0h-1.0zM79.4,97.4h1.0v1.0h-1.0zM76.8,93.6h1.0v1.0h-1.0zM85.1,94.5h1.0v1.0h-1.0zM79.2,90.4h1.0v1.0h-1.0zM81.7,94.7h1.0v1.0h-1.0zM81.9,95.9h1.0v1.0h-1.0zM83.0,89.7h1.0v1.0h-1.0zM79.6,97.8h1.0v1.0h-1.0zM85.6,98.4h1.0v1.0h-1.0zM82.6,100.2h1.0v1.0h-1.0zM82.0,89.5h1.0v1.0h-1.0zM84.0,89.3h1.0v1.0h-1.0zM83.3,89.4h1.0v1.0h-1.0zM80.3,95.1h1.0v1.0h-1.0zM74.0,102.0h1.0v1.0h-1.0zM83.7,89.9h1.0v1.0h-1.0zM83.1,88.1h1.0v1.0h-1.0zM74.8,98.0h1.0v1.0h-1.0zM83.6,89.7h1.0v1.0h-1.0zM78.1,99.3h1.0v1.0h-1.0zM82.6,91.6h1.0v1.0h-1.0zM79.3,92.4h1.0v1.0h-1.0z"/>
<path fill="#f07080" d="M84.7,111.0h0.6v0.6h-0.6zM68.6,116.5h0.6v0.6h-0.6zM68.4,117.7h0.6v0.6h-0.6zM81.4,107.9h0.6v0.6h-0.6zM66.8,123.5h0.6v0.6h-0.6zM80.1,122.7h0.6v0.6h-0.6zM76.3,118.8h0.6v0.6h-0.6zM97.8,106.6h0.6v0.6h-0.6zM66.6,128.7h0.6v0.6h-0.6zM87.2,105.3h0.6v0.6h-0.6zM63.8,111.4h0.6v0.6h-0.6zM90.2,112.9h0.6v0.6h-0.6zM58.0,126.5h0.6v0.6h-0.6zM74.1,127.4h0.6v0.6h-0.6zM74.5,112.2h0.6v0.6h-0.6zM80.1,122.4h0.6v0.6h-0.6zM90.8,120.0h0.6v0.6h-0.6zM65.9,126.5h0.6v0.6h-0.6zM93.2,112.1h0.6v0.6h-0.6zM75.1,122.7h0.6v0.6h-0.6zM90.8,121.1h0.6v0.6h-0.6zM71.9,112.9h0.6v0.6h-0.6zM77.4,122.2h0.6v0.6h-0.6zM81.0,118.6h0.6v0.6h-0.6zM67.6,127.6h0.6v0.6h-0.6zM81.1,108.1h0.6v0.6h-0.6zM84.8,105.3h0.6v0.6h-0.6zM84.1,105.3h0.6v0.6h-0.6zM100.8,108.2h0.6v0.6h-0.6zM92.7,105.8h0.6v0.6h-0.6zM68.5,129.9h0.6v0.6h-0.6zM69.9,111.8h0.6v0.6h-0.6zM71.3,103.1h0.6v0.6h-0.6zM71.0,129.0h0.6v0.6h-0.6zM84.5,112.7h0.6v0.6h-0.6zM78.2,124.3h0.6v0.6h-0.6zM75.8,116.2h0.6v0.6h-0.6zM69.9,119.5h0.6v0.6h-0.6zM80.7,111.4h0.6v0.6h-0.6zM69.2,125.6h0.6v0.6h-0.6zM94.9,110.4h0.6v0.6h-0.6zM77.2,114.6h0.6v0.6h-0.6zM56.4,125.6h0.6v0.6h-0.6zM70.8,122.0h0.6v0.6h-0.6zM98.3,106.0h0.6v0.6h-0.6zM55.7,134.9h0.6v0.6h-0.6zM85.7,121.3h0.6v0.6h-0.6zM83.6,105.3h0.6v0.6h-0.6zM72.6,124.1h0.6v0.6h-0.6zM86.4,112.3h0.6v0.6h-0.6zM89.6,105.4h0.6v0.6h-0.6zM68.7,104.8h0.6v0.6h-0.6zM78.3,126.1h0.6v0.6h-0.6zM72.2,110.2h0.6v0.6h-0.6zM70.8,130.2h0.6v0.6h-0.6zM72.9,109.0h0.6v0.6h-0.6zM75.2,103.1h0.6v0.6h-0.6zM94.6,106.9h0.6v0.6h-0.6zM55.6,135.1h0.6v0.6h-0.6zM65.4,111.3h0.6v0.6h-0.6zM60.7,133.1h0.6v0.6h-0.6zM81.5,123.0h0.6v0.6h-0.6zM73.2,118.1h0.6v0.6h-0.6zM65.1,125.3h0.6v0.6h-0.6zM81.1,110.0h0.6v0.6h-0.6zM75.3,124.1h0.6v0.6h-0.6zM94.6,112.4h0.6v0.6h-0.6zM63.9,107.9h0.6v0.6h-0.6z"/>
<path fill="#ec1c24" d="M92.1,92.0h0.8v0.8h-0.8zM95.7,87.5h0.8v0.8h-0.8zM96.7,87.8h0.8v0.8h-0.8zM93.4,92.7h0.8v0.8h-0.8zM91.3,87.5h0.8v0.8h-0.8zM94.7,92.6h0.8v0.8h-0.8zM97.4,87.5h0.8v0.8h-0.8zM95.9,88.1h0.8v0.8h-0.8zM93.0,87.9h0.8v0.8h-0.8zM94.9,83.6h0.8v0.8h-0.8zM92.3,87.9h0.8v0.8h-0.8zM91.0,94.6h0.8v0.8h-0.8zM88.3,98.4h0.8v0.8h-0.8zM89.3,89.7h0.8v0.8h-0.8zM91.4,93.6h0.8v0.8h-0.8zM94.3,86.3h0.8v0.8h-0.8zM89.9,90.4h0.8v0.8h-0.8zM92.1,91.6h0.8v0.8h-0.8zM95.2,89.2h0.8v0.8h-0.8zM90.2,85.3h0.8v0.8h-0.8zM97.0,78.5h0.8v0.8h-0.8zM90.9,96.9h0.8v0.8h-0.8zM92.6,86.5h0.8v0.8h-0.8zM91.2,88.3h0.8v0.8h-0.8zM94.9,79.0h0.8v0.8h-0.8zM94.7,88.9h0.8v0.8h-0.8zM89.5,84.1h0.8v0.8h-0.8zM93.0,88.7h0.8v0.8h-0.8zM98.8,81.6h0.8v0.8h-0.8zM99.4,82.3h0.8v0.8h-0.8zM92.6,85.0h0.8v0.8h-0.8zM88.5,84.6h0.8v0.8h-0.8zM90.5,80.8h0.8v0.8h-0.8zM89.9,99.0h0.8v0.8h-0.8zM92.5,81.6h0.8v0.8h-0.8zM90.1,90.6h0.8v0.8h-0.8zM90.5,80.6h0.8v0.8h-0.8zM93.5,93.7h0.8v0.8h-0.8zM92.2,91.1h0.8v0.8h-0.8zM92.6,87.6h0.8v0.8h-0.8zM94.0,92.6h0.8v0.8h-0.8zM91.3,92.9h0.8v0.8h-0.8zM88.8,85.0h0.8v0.8h-0.8zM95.6,91.1h0.8v0.8h-0.8zM94.8,91.8h0.8v0.8h-0.8zM92.1,89.9h0.8v0.8h-0.8zM89.3,99.5h0.8v0.8h-0.8zM91.9,90.2h0.8v0.8h-0.8zM95.2,90.6h0.8v0.8h-0.8zM93.9,92.6h0.8v0.8h-0.8z"/>
<path fill="#f8d0dc" d="M89.2,80.3h0.7v0.7h-0.7zM98.7,78.5h0.7v0.7h-0.7zM92.7,79.9h0.7v0.7h-0.7zM99.3,82.9h0.7v0.7h-0.7zM96.6,79.2h0.7v0.7h-0.7zM96.1,77.6h0.7v0.7h-0.7zM92.7,81.0h0.7v0.7h-0.7zM94.5,78.2h0.7v0.7h-0.7zM89.5,80.5h0.7v0.7h-0.7z"/>
<path fill="#ec1c24" d="M85.7,93.0h0.7v0.7h-0.7zM82.7,87.2h0.7v0.7h-0.7zM81.9,93.4h0.7v0.7h-0.7zM82.6,89.4h0.7v0.7h-0.7z"/>
<path fill="#f2b8c8" d="M85.1,88.3h0.7v0.7h-0.7zM83.5,86.2h0.7v0.7h-0.7zM81.2,91.5h0.7v0.7h-0.7zM83.4,93.8h0.7v0.7h-0.7zM82.9,92.2h0.7v0.7h-0.7zM82.9,85.9h0.7v0.7h-0.7zM83.3,90.9h0.7v0.7h-0.7zM82.9,88.8h0.7v0.7h-0.7zM83.3,91.0h0.7v0.7h-0.7zM86.0,92.8h0.7v0.7h-0.7zM85.0,90.4h0.7v0.7h-0.7zM81.3,89.7h0.7v0.7h-0.7zM82.2,87.0h0.7v0.7h-0.7zM84.6,90.4h0.7v0.7h-0.7zM82.5,89.8h0.7v0.7h-0.7zM82.5,87.3h0.7v0.7h-0.7zM82.1,88.7h0.7v0.7h-0.7zM84.9,92.0h0.7v0.7h-0.7zM81.8,89.0h0.7v0.7h-0.7zM85.4,93.8h0.7v0.7h-0.7zM84.9,89.3h0.7v0.7h-0.7zM85.0,93.8h0.7v0.7h-0.7zM85.6,90.8h0.7v0.7h-0.7zM82.8,89.2h0.7v0.7h-0.7zM81.7,92.5h0.7v0.7h-0.7zM81.5,90.6h0.7v0.7h-0.7zM82.7,93.1h0.7v0.7h-0.7zM82.0,90.1h0.7v0.7h-0.7z"/>
<path fill="#7f93d6" d="M90.4,22.3h0.6v0.6h-0.6zM73.6,26.5h0.6v0.6h-0.6zM86.8,27.7h0.6v0.6h-0.6zM79.5,25.4h0.6v0.6h-0.6zM94.9,32.5h0.6v0.6h-0.6zM83.2,27.5h0.6v0.6h-0.6zM93.7,29.1h0.6v0.6h-0.6zM78.0,20.3h0.6v0.6h-0.6zM92.2,32.1h0.6v0.6h-0.6zM89.3,31.3h0.6v0.6h-0.6zM90.7,28.1h0.6v0.6h-0.6zM83.2,34.7h0.6v0.6h-0.6zM83.1,27.0h0.6v0.6h-0.6zM83.0,35.6h0.6v0.6h-0.6zM77.9,28.6h0.6v0.6h-0.6zM93.9,32.4h0.6v0.6h-0.6zM77.3,26.9h0.6v0.6h-0.6zM86.6,26.6h0.6v0.6h-0.6zM86.7,21.5h0.6v0.6h-0.6zM80.8,21.6h0.6v0.6h-0.6zM93.2,31.1h0.6v0.6h-0.6zM80.8,18.2h0.6v0.6h-0.6zM89.4,17.6h0.6v0.6h-0.6zM84.3,31.5h0.6v0.6h-0.6zM74.2,25.4h0.6v0.6h-0.6zM82.5,33.7h0.6v0.6h-0.6zM83.0,19.4h0.6v0.6h-0.6zM83.4,18.6h0.6v0.6h-0.6zM84.9,37.2h0.6v0.6h-0.6zM74.6,19.2h0.6v0.6h-0.6zM71.5,30.9h0.6v0.6h-0.6zM85.2,22.2h0.6v0.6h-0.6zM89.9,26.0h0.6v0.6h-0.6zM83.8,21.7h0.6v0.6h-0.6zM88.4,21.4h0.6v0.6h-0.6zM87.3,57.5h0.6v0.6h-0.6zM88.6,60.3h0.6v0.6h-0.6zM84.2,64.2h0.6v0.6h-0.6zM77.6,55.6h0.6v0.6h-0.6zM81.5,57.6h0.6v0.6h-0.6zM88.6,57.8h0.6v0.6h-0.6zM88.0,63.1h0.6v0.6h-0.6zM88.7,60.4h0.6v0.6h-0.6zM104.0,91.0h0.6v0.6h-0.6zM113.7,88.6h0.6v0.6h-0.6zM112.8,87.7h0.6v0.6h-0.6zM109.5,93.6h0.6v0.6h-0.6zM54.2,41.8h0.6v0.6h-0.6zM53.0,35.5h0.6v0.6h-0.6zM59.1,42.1h0.6v0.6h-0.6z"/>
<path fill="#f2b8c8" d="M80.5,28.9h0.6v0.6h-0.6zM79.8,24.0h0.6v0.6h-0.6zM75.2,23.9h0.6v0.6h-0.6zM78.1,32.2h0.6v0.6h-0.6zM85.1,18.8h0.6v0.6h-0.6zM82.6,18.3h0.6v0.6h-0.6zM82.6,56.3h0.6v0.6h-0.6zM83.1,60.6h0.6v0.6h-0.6zM87.8,62.8h0.6v0.6h-0.6zM112.7,92.9h0.6v0.6h-0.6zM106.0,91.7h0.6v0.6h-0.6z"/>
<path fill="#3a74c0" d="M121.5,117.6h1.0v1.0h-1.0zM110.9,127.3h1.0v1.0h-1.0zM119.2,111.1h1.0v1.0h-1.0zM113.9,111.0h1.0v1.0h-1.0zM112.9,112.1h1.0v1.0h-1.0zM114.3,108.6h1.0v1.0h-1.0zM114.4,109.4h1.0v1.0h-1.0zM123.2,113.1h1.0v1.0h-1.0zM115.6,112.9h1.0v1.0h-1.0zM117.6,112.2h1.0v1.0h-1.0zM122.8,119.2h1.0v1.0h-1.0zM118.6,113.5h1.0v1.0h-1.0zM116.0,112.5h1.0v1.0h-1.0zM114.8,117.0h1.0v1.0h-1.0zM116.8,109.7h1.0v1.0h-1.0zM121.4,116.1h1.0v1.0h-1.0zM122.3,115.3h1.0v1.0h-1.0zM114.5,112.2h1.0v1.0h-1.0zM113.8,116.1h1.0v1.0h-1.0zM118.2,118.5h1.0v1.0h-1.0zM113.2,112.7h1.0v1.0h-1.0zM117.8,105.8h1.0v1.0h-1.0zM118.1,103.8h1.0v1.0h-1.0zM116.0,110.9h1.0v1.0h-1.0zM122.0,111.1h1.0v1.0h-1.0zM115.0,118.6h1.0v1.0h-1.0zM114.5,113.0h1.0v1.0h-1.0zM115.1,116.4h1.0v1.0h-1.0zM119.8,111.8h1.0v1.0h-1.0zM116.8,108.2h1.0v1.0h-1.0zM118.6,114.4h1.0v1.0h-1.0zM118.6,112.4h1.0v1.0h-1.0zM114.8,111.4h1.0v1.0h-1.0zM118.2,114.6h1.0v1.0h-1.0zM119.4,116.5h1.0v1.0h-1.0zM114.9,108.7h1.0v1.0h-1.0zM113.9,108.8h1.0v1.0h-1.0zM119.1,113.0h1.0v1.0h-1.0zM121.8,116.1h1.0v1.0h-1.0zM116.8,115.2h1.0v1.0h-1.0zM116.0,106.3h1.0v1.0h-1.0zM116.1,120.7h1.0v1.0h-1.0zM116.2,106.1h1.0v1.0h-1.0zM121.2,113.1h1.0v1.0h-1.0zM117.8,113.5h1.0v1.0h-1.0zM115.6,117.6h1.0v1.0h-1.0zM117.6,114.8h1.0v1.0h-1.0zM121.6,108.0h1.0v1.0h-1.0zM124.5,105.6h1.0v1.0h-1.0zM118.1,115.7h1.0v1.0h-1.0zM117.9,111.3h1.0v1.0h-1.0zM118.0,105.1h1.0v1.0h-1.0zM119.0,111.0h1.0v1.0h-1.0zM119.7,110.6h1.0v1.0h-1.0zM118.4,102.9h1.0v1.0h-1.0zM118.5,105.8h1.0v1.0h-1.0zM114.6,115.7h1.0v1.0h-1.0zM117.3,103.7h1.0v1.0h-1.0zM119.2,116.7h1.0v1.0h-1.0zM118.9,108.9h1.0v1.0h-1.0zM114.0,119.6h1.0v1.0h-1.0zM119.9,119.4h1.0v1.0h-1.0zM116.2,106.7h1.0v1.0h-1.0zM116.4,109.1h1.0v1.0h-1.0zM122.7,118.8h1.0v1.0h-1.0zM115.8,114.5h1.0v1.0h-1.0zM114.8,111.9h1.0v1.0h-1.0zM124.5,110.3h1.0v1.0h-1.0zM119.0,117.1h1.0v1.0h-1.0zM119.8,108.8h1.0v1.0h-1.0zM113.7,112.0h1.0v1.0h-1.0zM114.5,103.7h1.0v1.0h-1.0zM121.9,117.5h1.0v1.0h-1.0zM116.7,113.8h1.0v1.0h-1.0zM115.9,105.9h1.0v1.0h-1.0zM120.1,108.4h1.0v1.0h-1.0zM115.0,116.2h1.0v1.0h-1.0zM120.8,119.1h1.0v1.0h-1.0zM117.8,107.8h1.0v1.0h-1.0zM117.1,118.4h1.0v1.0h-1.0zM115.6,117.3h1.0v1.0h-1.0zM119.2,113.2h1.0v1.0h-1.0zM116.2,118.8h1.0v1.0h-1.0zM117.4,111.2h1.0v1.0h-1.0zM118.4,103.3h1.0v1.0h-1.0zM118.9,112.5h1.0v1.0h-1.0zM120.9,109.7h1.0v1.0h-1.0zM114.8,124.4h1.0v1.0h-1.0zM116.1,110.4h1.0v1.0h-1.0zM115.6,113.3h1.0v1.0h-1.0zM122.0,124.0h1.0v1.0h-1.0zM118.4,115.1h1.0v1.0h-1.0zM112.6,115.2h1.0v1.0h-1.0zM119.7,106.9h1.0v1.0h-1.0zM114.3,106.2h1.0v1.0h-1.0z"/>
<path fill="#a8dcf2" d="M123.7,118.3h0.7v0.7h-0.7zM123.5,108.2h0.7v0.7h-0.7zM121.0,119.9h0.7v0.7h-0.7zM125.2,122.3h0.7v0.7h-0.7zM114.0,130.0h0.7v0.7h-0.7zM120.6,104.9h0.7v0.7h-0.7zM119.9,123.9h0.7v0.7h-0.7zM123.2,105.2h0.7v0.7h-0.7zM124.1,126.0h0.7v0.7h-0.7zM125.1,122.3h0.7v0.7h-0.7zM121.3,125.4h0.7v0.7h-0.7zM126.3,124.0h0.7v0.7h-0.7zM125.5,106.4h0.7v0.7h-0.7zM124.9,126.7h0.7v0.7h-0.7zM123.3,127.3h0.7v0.7h-0.7zM119.0,126.7h0.7v0.7h-0.7zM114.8,125.9h0.7v0.7h-0.7zM122.5,125.3h0.7v0.7h-0.7zM117.4,123.9h0.7v0.7h-0.7zM124.2,112.3h0.7v0.7h-0.7zM110.7,126.2h0.7v0.7h-0.7zM126.0,124.1h0.7v0.7h-0.7zM122.8,122.7h0.7v0.7h-0.7zM122.0,127.2h0.7v0.7h-0.7zM113.8,124.0h0.7v0.7h-0.7zM123.6,121.8h0.7v0.7h-0.7zM125.3,121.8h0.7v0.7h-0.7zM124.0,123.9h0.7v0.7h-0.7zM120.5,124.0h0.7v0.7h-0.7zM122.7,119.6h0.7v0.7h-0.7zM121.5,126.9h0.7v0.7h-0.7zM113.8,122.5h0.7v0.7h-0.7zM122.8,123.5h0.7v0.7h-0.7zM118.8,123.7h0.7v0.7h-0.7zM117.8,125.8h0.7v0.7h-0.7zM122.0,103.3h0.7v0.7h-0.7zM112.7,119.5h0.7v0.7h-0.7zM113.3,123.5h0.7v0.7h-0.7zM123.8,125.2h0.7v0.7h-0.7zM122.8,123.9h0.7v0.7h-0.7zM123.6,107.8h0.7v0.7h-0.7zM125.4,121.6h0.7v0.7h-0.7zM124.2,107.6h0.7v0.7h-0.7zM123.3,118.9h0.7v0.7h-0.7zM133.6,78.6h0.7v0.7h-0.7zM130.2,75.0h0.7v0.7h-0.7zM133.3,65.5h0.7v0.7h-0.7zM134.9,75.6h0.7v0.7h-0.7zM133.1,68.8h0.7v0.7h-0.7zM132.3,66.4h0.7v0.7h-0.7z"/>
<!-- CDOTS END -->
</g>
<circle cx="384.6" cy="34.8" r="16.2" fill="none" stroke="#1a9a6e" stroke-width="1.9"/>
<path d="M317.5,151.3 V124.7 M317.5,151.3 H344.8" stroke="#222" stroke-width="1"/>
<path d="M317.5,121.5 L315.7,125.5 L319.3,125.5 Z M347.9,151.3 L343.9,149.5 L343.9,153.1 Z" fill="#222"/>
<text font-size="8.4" transform="translate(313.3,137.9) rotate(-90)" text-anchor="middle">UMAP-2</text>
<text x="331.5" y="162.5" font-size="8.4" text-anchor="middle">UMAP-1</text>
<g font-size="8.7">
<circle cx="448.7" cy="38.7" r="1.9" fill="#7ec4e2"/><text x="453.7" y="41.8">CLP</text>
<circle cx="448.7" cy="48.8" r="1.9" fill="#111"/><text x="453.7" y="51.9">CMP</text>
<circle cx="448.7" cy="58.9" r="1.9" fill="#2c3f8c"/><text x="453.7" y="62">GMP</text>
<circle cx="448.7" cy="69" r="1.9" fill="#f2b8c8"/><text x="453.7" y="72.1">HSC</text>
<circle cx="448.7" cy="79.1" r="1.9" fill="#d81c2c"/><text x="453.7" y="82.2">MEP</text>
<circle cx="448.7" cy="89.2" r="1.9" fill="#5aa84c"/><text x="453.7" y="92.3">MPP</text>
<circle cx="448.7" cy="99.3" r="1.9" fill="#b8b8b8"/><text x="453.7" y="102.4">No consensus</text>
</g>
</g>

<!-- ===== Panel D ===== -->
<g id="pD">
<text class="b" x="5.2" y="182.1" font-size="10">D</text>
<rect x="7.2" y="186.6" width="158" height="1.8" fill="#111"/>
<rect x="7.2" y="188.4" width="158" height="10.9" fill="#2e6db4"/>
<g class="b" font-size="8.6" style="fill:#fff"><text x="29.4" y="197.4" text-anchor="middle" fill="#fff" style="stroke:none">Gene</text><text x="65.2" y="197.4" fill="#fff" style="stroke:none">Receptor</text><text x="121.7" y="197.4" text-anchor="middle" fill="#fff" style="stroke:none">TN</text><text x="152.4" y="197.4" text-anchor="middle" fill="#fff" style="stroke:none">TP</text></g>
<g font-size="8.7" fill="#333">
<text x="9" y="209.3">ITGAM</text><text x="65.5" y="209.3">CD11B</text><text x="110.5" y="209.3">0.986</text><text x="142" y="209.3">0.470</text>
<text x="9" y="220.9">HAVCR2</text><text x="65.5" y="220.9">TIM-3</text><text x="110.5" y="220.9">0.983</text><text x="142" y="220.9">0.257</text>
<text x="9" y="232.5">TNFRSF1B</text><text x="65.5" y="232.5">CD120b</text><text x="110.5" y="232.5">0.988</text><text x="142" y="232.5">0.464</text>
<text x="9" y="244.1">TLR4</text><text x="65.5" y="244.1">CD284</text><text x="110.5" y="244.1">0.991</text><text x="142" y="244.1">0.321</text>
<text x="9" y="255.7">TLR2</text><text x="65.5" y="255.7">CD282</text><text x="110.5" y="255.7">0.976</text><text x="142" y="255.7">0.416</text>
<text x="9" y="267.3">CSF2RA</text><text x="65.5" y="267.3">CD116</text><text x="110.5" y="267.3">0.979</text><text x="142" y="267.3">0.314</text>
<text x="9" y="278.9">ANPEP</text><text x="65.5" y="278.9">CD13</text><text x="110.5" y="278.9">0.962</text><text x="142" y="278.9">0.379</text>
<text x="9" y="290.5">FCGR3A</text><text x="65.5" y="290.5">CD16</text><text x="110.5" y="290.5">0.997</text><text x="142" y="290.5">0.166</text>
<text x="9" y="302.1">FCGR1A</text><text x="65.5" y="302.1">CD64</text><text x="110.5" y="302.1">0.984</text><text x="142" y="302.1">0.453</text>
<text x="9" y="313.7">CSF1R</text><text x="65.5" y="313.7">CD115</text><text x="110.5" y="313.7">0.959</text><text x="142" y="313.7">0.360</text>
<text x="9" y="325.2">CD163</text><text x="65.5" y="325.2">CD163</text><text x="110.5" y="325.2">0.998</text><text x="142" y="325.2">0.336</text>
<text x="9" y="336.8">CD14</text><text x="65.5" y="336.8">CD14</text><text x="110.5" y="336.8">0.998</text><text x="142" y="336.8">0.420</text>
<text x="9" y="348.4">ITGAX</text><text x="65.5" y="348.4">CD11C</text><text x="110.5" y="348.4">0.984</text><text x="142" y="348.4">0.375</text>
<text x="9" y="360.0">IFNGR1</text><text x="65.5" y="360.0">CD119</text><text x="110.5" y="360.0">0.935</text><text x="142" y="360.0">0.374</text>
<text x="9" y="371.6">CD4</text><text x="65.5" y="371.6">CD4</text><text x="110.5" y="371.6">0.979</text><text x="142" y="371.6">0.397</text>
</g>
<rect x="7.6" y="379.4" width="157.8" height="1.7" fill="#111"/>
</g>

<!-- ===== Panel E ===== -->
<g id="pE">
<text class="b" x="185.5" y="182.5" font-size="10">E</text>
<text x="256.8" y="197.4" font-size="8.5" text-anchor="middle">COMET analysis of cluster 2:</text>
<text x="258.5" y="207.3" font-size="8.5" text-anchor="middle">TNFRSF1B (CD120b)</text>
<g transform="translate(172.95,205.6) scale(0.94)" fill="#d5d5df" stroke="#d5d5df" stroke-width="0.6" stroke-linejoin="round">
<use href="#c0"/><use href="#c1"/><use href="#c3"/><use href="#c4"/><use href="#c5" fill="#cfcde4"/><use href="#c6"/><use href="#c7"/><use href="#c8"/><use href="#c9"/><use href="#c10"/>
<use href="#c2" fill="#ab9fd6" stroke="#ab9fd6"/>
<!-- EDOTS START -->
<path fill="#7a6cc0" stroke="none" d="M86.4,33.6h0.9v0.9h-0.9zM73.0,23.1h0.9v0.9h-0.9zM87.0,29.8h0.9v0.9h-0.9zM82.1,22.6h0.9v0.9h-0.9zM72.4,30.1h0.9v0.9h-0.9zM94.8,32.9h0.9v0.9h-0.9zM73.6,21.9h0.9v0.9h-0.9zM90.6,20.4h0.9v0.9h-0.9zM84.6,26.2h0.9v0.9h-0.9zM73.9,30.4h0.9v0.9h-0.9zM73.5,25.6h0.9v0.9h-0.9zM75.9,22.4h0.9v0.9h-0.9zM78.2,35.6h0.9v0.9h-0.9zM92.0,30.4h0.9v0.9h-0.9zM72.9,29.1h0.9v0.9h-0.9zM85.0,35.2h0.9v0.9h-0.9zM75.2,19.9h0.9v0.9h-0.9zM76.6,31.7h0.9v0.9h-0.9zM85.6,22.9h0.9v0.9h-0.9zM75.0,32.1h0.9v0.9h-0.9zM72.5,28.3h0.9v0.9h-0.9zM79.4,31.3h0.9v0.9h-0.9zM81.1,33.6h0.9v0.9h-0.9zM92.3,28.9h0.9v0.9h-0.9zM88.9,25.0h0.9v0.9h-0.9zM86.0,36.4h0.9v0.9h-0.9zM75.7,20.2h0.9v0.9h-0.9zM93.3,30.8h0.9v0.9h-0.9zM81.7,35.8h0.9v0.9h-0.9zM85.2,23.4h0.9v0.9h-0.9zM74.0,27.3h0.9v0.9h-0.9zM91.6,34.8h0.9v0.9h-0.9zM86.3,27.2h0.9v0.9h-0.9zM78.4,33.6h0.9v0.9h-0.9zM80.5,33.6h0.9v0.9h-0.9zM94.0,32.1h0.9v0.9h-0.9zM73.9,26.4h0.9v0.9h-0.9zM80.1,28.8h0.9v0.9h-0.9zM86.9,21.0h0.9v0.9h-0.9zM88.7,34.2h0.9v0.9h-0.9zM86.7,32.0h0.9v0.9h-0.9zM78.6,36.2h0.9v0.9h-0.9zM84.4,33.1h0.9v0.9h-0.9zM90.7,20.3h0.9v0.9h-0.9zM83.6,32.2h0.9v0.9h-0.9zM91.7,31.4h0.9v0.9h-0.9zM76.2,27.9h0.9v0.9h-0.9zM86.6,27.8h0.9v0.9h-0.9zM91.8,28.6h0.9v0.9h-0.9zM78.4,24.8h0.9v0.9h-0.9zM85.8,17.2h0.9v0.9h-0.9zM73.8,25.9h0.9v0.9h-0.9zM87.8,23.5h0.9v0.9h-0.9zM83.9,20.0h0.9v0.9h-0.9zM75.7,30.2h0.9v0.9h-0.9zM86.6,28.0h0.9v0.9h-0.9zM92.0,29.8h0.9v0.9h-0.9zM89.2,34.0h0.9v0.9h-0.9zM90.4,19.3h0.9v0.9h-0.9zM87.7,36.2h0.9v0.9h-0.9zM83.3,32.9h0.9v0.9h-0.9zM75.3,18.1h0.9v0.9h-0.9zM75.5,20.1h0.9v0.9h-0.9zM85.7,27.4h0.9v0.9h-0.9zM91.0,25.3h0.9v0.9h-0.9zM89.8,25.3h0.9v0.9h-0.9zM86.0,32.5h0.9v0.9h-0.9zM80.0,18.7h0.9v0.9h-0.9zM84.4,27.5h0.9v0.9h-0.9zM90.9,18.2h0.9v0.9h-0.9zM74.6,26.7h0.9v0.9h-0.9zM79.8,22.7h0.9v0.9h-0.9zM87.0,28.7h0.9v0.9h-0.9zM77.7,32.0h0.9v0.9h-0.9zM89.4,17.7h0.9v0.9h-0.9zM88.7,26.7h0.9v0.9h-0.9zM75.7,17.7h0.9v0.9h-0.9zM81.7,31.0h0.9v0.9h-0.9zM85.2,25.6h0.9v0.9h-0.9zM79.6,22.4h0.9v0.9h-0.9zM89.5,20.7h0.9v0.9h-0.9zM77.4,25.7h0.9v0.9h-0.9zM72.8,31.1h0.9v0.9h-0.9zM84.4,30.2h0.9v0.9h-0.9zM89.3,34.6h0.9v0.9h-0.9zM90.9,24.5h0.9v0.9h-0.9zM72.7,23.1h0.9v0.9h-0.9zM76.8,24.4h0.9v0.9h-0.9zM90.6,28.2h0.9v0.9h-0.9zM84.3,33.5h0.9v0.9h-0.9zM86.9,21.9h0.9v0.9h-0.9zM83.0,28.2h0.9v0.9h-0.9zM92.0,33.9h0.9v0.9h-0.9zM90.1,20.5h0.9v0.9h-0.9zM76.5,32.0h0.9v0.9h-0.9zM91.1,26.9h0.9v0.9h-0.9zM84.3,37.2h0.9v0.9h-0.9zM90.7,24.9h0.9v0.9h-0.9zM88.5,29.6h0.9v0.9h-0.9zM72.7,22.4h0.9v0.9h-0.9zM82.7,26.7h0.9v0.9h-0.9zM90.4,25.6h0.9v0.9h-0.9zM84.2,27.9h0.9v0.9h-0.9zM82.3,32.0h0.9v0.9h-0.9zM79.6,31.4h0.9v0.9h-0.9zM90.7,21.0h0.9v0.9h-0.9zM80.0,28.2h0.9v0.9h-0.9zM89.0,23.7h0.9v0.9h-0.9zM87.6,31.8h0.9v0.9h-0.9zM75.1,25.2h0.9v0.9h-0.9zM91.6,29.3h0.9v0.9h-0.9zM74.5,19.3h0.9v0.9h-0.9zM89.8,34.3h0.9v0.9h-0.9zM80.3,23.7h0.9v0.9h-0.9zM79.2,30.6h0.9v0.9h-0.9zM73.3,24.7h0.9v0.9h-0.9zM93.3,28.4h0.9v0.9h-0.9zM72.7,21.9h0.9v0.9h-0.9zM79.7,26.6h0.9v0.9h-0.9zM87.4,32.5h0.9v0.9h-0.9zM75.6,26.7h0.9v0.9h-0.9zM84.9,20.3h0.9v0.9h-0.9zM84.9,23.7h0.9v0.9h-0.9zM84.8,36.1h0.9v0.9h-0.9zM81.4,36.0h0.9v0.9h-0.9zM89.5,23.2h0.9v0.9h-0.9zM83.2,25.1h0.9v0.9h-0.9zM83.8,21.7h0.9v0.9h-0.9zM76.5,18.1h0.9v0.9h-0.9zM81.2,33.9h0.9v0.9h-0.9zM93.1,34.1h0.9v0.9h-0.9zM85.3,17.6h0.9v0.9h-0.9zM88.8,23.3h0.9v0.9h-0.9zM76.2,23.2h0.9v0.9h-0.9zM92.8,29.3h0.9v0.9h-0.9zM82.2,32.7h0.9v0.9h-0.9zM90.3,27.7h0.9v0.9h-0.9zM87.8,27.8h0.9v0.9h-0.9zM85.9,21.7h0.9v0.9h-0.9zM76.5,27.1h0.9v0.9h-0.9zM76.2,29.1h0.9v0.9h-0.9zM81.5,26.1h0.9v0.9h-0.9zM74.3,23.3h0.9v0.9h-0.9zM77.2,29.3h0.9v0.9h-0.9zM79.7,21.3h0.9v0.9h-0.9zM81.3,18.2h0.9v0.9h-0.9zM76.4,22.0h0.9v0.9h-0.9zM82.2,36.6h0.9v0.9h-0.9zM86.9,17.9h0.9v0.9h-0.9zM79.2,31.5h0.9v0.9h-0.9zM80.5,34.7h0.9v0.9h-0.9zM76.0,24.1h0.9v0.9h-0.9zM74.7,21.0h0.9v0.9h-0.9zM76.0,26.7h0.9v0.9h-0.9zM80.5,36.5h0.9v0.9h-0.9zM79.7,19.9h0.9v0.9h-0.9zM84.3,19.5h0.9v0.9h-0.9zM88.3,22.2h0.9v0.9h-0.9zM80.8,24.9h0.9v0.9h-0.9zM71.2,30.2h0.9v0.9h-0.9zM84.8,34.0h0.9v0.9h-0.9zM87.4,36.4h0.9v0.9h-0.9zM78.8,27.3h0.9v0.9h-0.9zM80.7,26.8h0.9v0.9h-0.9zM74.8,30.9h0.9v0.9h-0.9zM76.6,18.6h0.9v0.9h-0.9zM74.4,29.1h0.9v0.9h-0.9zM86.0,37.1h0.9v0.9h-0.9zM94.3,33.2h0.9v0.9h-0.9zM87.7,21.6h0.9v0.9h-0.9zM83.0,30.6h0.9v0.9h-0.9z"/>
<path fill="#d8d0ee" stroke="none" d="M78.5,21.5h0.9v0.9h-0.9zM89.8,25.2h0.9v0.9h-0.9zM72.8,23.8h0.9v0.9h-0.9zM75.4,32.3h0.9v0.9h-0.9zM76.0,22.2h0.9v0.9h-0.9zM78.0,18.2h0.9v0.9h-0.9zM93.4,34.2h0.9v0.9h-0.9zM92.7,29.6h0.9v0.9h-0.9zM79.7,35.8h0.9v0.9h-0.9zM89.1,36.0h0.9v0.9h-0.9zM81.7,34.6h0.9v0.9h-0.9zM71.3,29.5h0.9v0.9h-0.9zM77.5,20.2h0.9v0.9h-0.9zM81.9,22.5h0.9v0.9h-0.9zM76.0,25.5h0.9v0.9h-0.9zM86.4,26.2h0.9v0.9h-0.9zM88.5,20.5h0.9v0.9h-0.9zM88.1,27.8h0.9v0.9h-0.9zM92.7,33.7h0.9v0.9h-0.9zM79.0,33.5h0.9v0.9h-0.9zM74.1,19.8h0.9v0.9h-0.9zM85.0,20.9h0.9v0.9h-0.9zM84.7,27.2h0.9v0.9h-0.9zM87.9,18.0h0.9v0.9h-0.9zM77.4,26.8h0.9v0.9h-0.9zM76.9,20.9h0.9v0.9h-0.9zM76.6,32.2h0.9v0.9h-0.9zM80.7,31.3h0.9v0.9h-0.9zM84.4,27.7h0.9v0.9h-0.9zM78.8,26.6h0.9v0.9h-0.9zM88.3,35.1h0.9v0.9h-0.9zM88.7,18.1h0.9v0.9h-0.9zM79.2,26.7h0.9v0.9h-0.9zM87.2,28.8h0.9v0.9h-0.9zM88.2,33.0h0.9v0.9h-0.9zM85.9,17.9h0.9v0.9h-0.9zM74.5,32.8h0.9v0.9h-0.9zM80.4,35.9h0.9v0.9h-0.9zM81.4,26.9h0.9v0.9h-0.9zM83.7,36.8h0.9v0.9h-0.9zM85.8,19.1h0.9v0.9h-0.9zM89.0,21.7h0.9v0.9h-0.9zM87.8,28.7h0.9v0.9h-0.9zM80.0,26.9h0.9v0.9h-0.9zM89.9,21.2h0.9v0.9h-0.9zM90.1,18.2h0.9v0.9h-0.9zM79.6,32.2h0.9v0.9h-0.9zM88.4,28.8h0.9v0.9h-0.9zM78.6,25.2h0.9v0.9h-0.9zM75.5,28.7h0.9v0.9h-0.9zM75.0,32.9h0.9v0.9h-0.9zM89.1,35.9h0.9v0.9h-0.9zM80.5,23.9h0.9v0.9h-0.9zM91.3,30.9h0.9v0.9h-0.9zM75.7,25.7h0.9v0.9h-0.9zM75.2,22.6h0.9v0.9h-0.9zM74.9,32.9h0.9v0.9h-0.9zM79.9,33.7h0.9v0.9h-0.9zM77.3,28.1h0.9v0.9h-0.9zM88.6,18.7h0.9v0.9h-0.9zM73.3,25.1h0.9v0.9h-0.9zM74.1,18.6h0.9v0.9h-0.9zM87.2,29.7h0.9v0.9h-0.9zM74.6,33.1h0.9v0.9h-0.9zM86.3,20.9h0.9v0.9h-0.9zM85.1,31.6h0.9v0.9h-0.9zM84.7,22.3h0.9v0.9h-0.9zM77.8,35.9h0.9v0.9h-0.9zM76.6,28.9h0.9v0.9h-0.9zM84.4,18.2h0.9v0.9h-0.9zM94.7,29.5h0.9v0.9h-0.9zM86.3,31.4h0.9v0.9h-0.9zM80.9,25.9h0.9v0.9h-0.9zM83.8,27.9h0.9v0.9h-0.9zM88.8,36.0h0.9v0.9h-0.9zM71.9,31.5h0.9v0.9h-0.9zM87.3,35.2h0.9v0.9h-0.9zM76.7,23.0h0.9v0.9h-0.9zM78.3,27.3h0.9v0.9h-0.9zM82.5,21.0h0.9v0.9h-0.9zM75.1,21.7h0.9v0.9h-0.9zM87.3,33.6h0.9v0.9h-0.9zM80.0,30.8h0.9v0.9h-0.9zM85.7,22.7h0.9v0.9h-0.9zM83.1,20.5h0.9v0.9h-0.9zM84.6,30.5h0.9v0.9h-0.9zM90.2,20.2h0.9v0.9h-0.9zM81.7,33.2h0.9v0.9h-0.9zM86.2,27.9h0.9v0.9h-0.9zM82.9,33.0h0.9v0.9h-0.9zM82.0,32.6h0.9v0.9h-0.9zM80.5,23.0h0.9v0.9h-0.9zM84.5,21.8h0.9v0.9h-0.9zM92.3,29.3h0.9v0.9h-0.9zM75.2,28.4h0.9v0.9h-0.9zM78.3,26.2h0.9v0.9h-0.9zM88.0,24.4h0.9v0.9h-0.9zM78.7,24.9h0.9v0.9h-0.9zM78.8,33.2h0.9v0.9h-0.9zM78.4,25.7h0.9v0.9h-0.9zM77.9,24.0h0.9v0.9h-0.9zM77.6,20.0h0.9v0.9h-0.9zM88.2,28.5h0.9v0.9h-0.9zM93.0,28.8h0.9v0.9h-0.9zM75.3,26.7h0.9v0.9h-0.9zM86.3,29.9h0.9v0.9h-0.9zM80.9,25.5h0.9v0.9h-0.9zM77.5,34.4h0.9v0.9h-0.9zM74.0,27.5h0.9v0.9h-0.9zM78.3,24.3h0.9v0.9h-0.9zM75.4,21.5h0.9v0.9h-0.9zM84.4,30.0h0.9v0.9h-0.9z"/>
<path fill="#c4c4d2" stroke="none" d="M57.4,82.5h0.9v0.9h-0.9zM53.8,87.4h0.9v0.9h-0.9zM71.0,79.6h0.9v0.9h-0.9zM67.6,77.9h0.9v0.9h-0.9zM42.4,88.5h0.9v0.9h-0.9zM68.5,54.1h0.9v0.9h-0.9zM54.1,62.0h0.9v0.9h-0.9zM53.4,77.2h0.9v0.9h-0.9zM68.5,79.3h0.9v0.9h-0.9zM51.4,73.9h0.9v0.9h-0.9zM70.6,51.2h0.9v0.9h-0.9zM64.7,57.9h0.9v0.9h-0.9zM62.9,80.1h0.9v0.9h-0.9zM78.5,87.9h0.9v0.9h-0.9zM76.7,79.1h0.9v0.9h-0.9zM83.9,73.9h0.9v0.9h-0.9zM46.4,78.3h0.9v0.9h-0.9zM48.1,66.6h0.9v0.9h-0.9zM61.7,82.8h0.9v0.9h-0.9zM79.2,74.6h0.9v0.9h-0.9zM50.8,94.5h0.9v0.9h-0.9zM71.9,94.4h0.9v0.9h-0.9zM69.1,54.4h0.9v0.9h-0.9zM69.8,76.2h0.9v0.9h-0.9zM72.3,77.6h0.9v0.9h-0.9zM64.5,76.0h0.9v0.9h-0.9zM74.6,61.8h0.9v0.9h-0.9zM59.6,71.1h0.9v0.9h-0.9zM51.5,75.1h0.9v0.9h-0.9zM60.5,87.8h0.9v0.9h-0.9zM73.8,65.9h0.9v0.9h-0.9zM59.1,85.6h0.9v0.9h-0.9zM62.9,81.9h0.9v0.9h-0.9zM50.8,98.5h0.9v0.9h-0.9zM63.9,71.4h0.9v0.9h-0.9zM74.4,64.6h0.9v0.9h-0.9zM49.7,101.3h0.9v0.9h-0.9zM58.6,82.1h0.9v0.9h-0.9zM48.4,84.2h0.9v0.9h-0.9zM72.2,88.0h0.9v0.9h-0.9zM47.5,65.4h0.9v0.9h-0.9zM56.3,73.1h0.9v0.9h-0.9zM71.1,88.4h0.9v0.9h-0.9zM55.4,74.8h0.9v0.9h-0.9zM57.0,68.4h0.9v0.9h-0.9zM69.1,86.2h0.9v0.9h-0.9zM64.8,78.7h0.9v0.9h-0.9zM54.5,48.8h0.9v0.9h-0.9zM65.5,67.0h0.9v0.9h-0.9zM63.5,92.5h0.9v0.9h-0.9zM75.4,90.0h0.9v0.9h-0.9zM79.2,82.8h0.9v0.9h-0.9zM74.9,93.6h0.9v0.9h-0.9zM53.3,106.0h0.9v0.9h-0.9zM59.6,57.8h0.9v0.9h-0.9zM48.1,50.7h0.9v0.9h-0.9zM67.2,98.3h0.9v0.9h-0.9zM62.8,70.6h0.9v0.9h-0.9zM57.5,99.8h0.9v0.9h-0.9zM81.0,75.7h0.9v0.9h-0.9zM50.3,85.2h0.9v0.9h-0.9zM47.2,79.5h0.9v0.9h-0.9zM52.1,79.8h0.9v0.9h-0.9zM61.8,53.9h0.9v0.9h-0.9zM47.3,84.9h0.9v0.9h-0.9zM60.1,63.5h0.9v0.9h-0.9zM56.9,104.8h0.9v0.9h-0.9zM46.5,95.0h0.9v0.9h-0.9zM62.3,93.3h0.9v0.9h-0.9zM60.6,74.1h0.9v0.9h-0.9zM57.5,65.4h0.9v0.9h-0.9zM80.1,77.3h0.9v0.9h-0.9zM54.1,71.9h0.9v0.9h-0.9zM56.3,60.5h0.9v0.9h-0.9zM60.9,78.2h0.9v0.9h-0.9zM54.7,99.5h0.9v0.9h-0.9zM60.6,82.4h0.9v0.9h-0.9zM52.8,53.0h0.9v0.9h-0.9zM77.2,74.5h0.9v0.9h-0.9zM71.7,79.6h0.9v0.9h-0.9zM59.7,88.3h0.9v0.9h-0.9zM56.2,51.2h0.9v0.9h-0.9zM72.2,52.7h0.9v0.9h-0.9zM44.0,86.8h0.9v0.9h-0.9zM52.3,96.0h0.9v0.9h-0.9zM71.6,53.8h0.9v0.9h-0.9zM72.7,60.8h0.9v0.9h-0.9zM65.4,50.0h0.9v0.9h-0.9zM57.0,59.0h0.9v0.9h-0.9zM66.0,78.9h0.9v0.9h-0.9zM58.5,105.6h0.9v0.9h-0.9zM71.7,95.1h0.9v0.9h-0.9zM84.0,77.0h0.9v0.9h-0.9zM79.5,74.2h0.9v0.9h-0.9zM80.2,79.9h0.9v0.9h-0.9zM48.0,63.4h0.9v0.9h-0.9zM70.2,65.4h0.9v0.9h-0.9zM66.7,61.6h0.9v0.9h-0.9zM60.5,97.4h0.9v0.9h-0.9zM70.0,82.7h0.9v0.9h-0.9zM69.6,79.6h0.9v0.9h-0.9zM71.1,80.3h0.9v0.9h-0.9zM82.0,73.6h0.9v0.9h-0.9zM48.2,68.1h0.9v0.9h-0.9zM60.8,98.7h0.9v0.9h-0.9zM68.0,63.1h0.9v0.9h-0.9zM65.6,66.9h0.9v0.9h-0.9zM67.5,52.4h0.9v0.9h-0.9zM47.5,87.4h0.9v0.9h-0.9zM49.2,80.4h0.9v0.9h-0.9zM58.6,93.0h0.9v0.9h-0.9zM70.9,49.6h0.9v0.9h-0.9zM53.4,75.3h0.9v0.9h-0.9zM41.7,99.4h0.9v0.9h-0.9zM67.4,89.4h0.9v0.9h-0.9zM71.6,49.7h0.9v0.9h-0.9zM62.2,74.7h0.9v0.9h-0.9zM56.8,81.5h0.9v0.9h-0.9zM56.0,68.5h0.9v0.9h-0.9zM60.6,83.3h0.9v0.9h-0.9zM62.8,121.6h0.9v0.9h-0.9zM83.2,113.0h0.9v0.9h-0.9zM79.7,113.0h0.9v0.9h-0.9zM77.5,110.8h0.9v0.9h-0.9zM71.5,104.4h0.9v0.9h-0.9zM64.3,130.8h0.9v0.9h-0.9zM93.9,112.2h0.9v0.9h-0.9zM73.6,107.6h0.9v0.9h-0.9zM85.0,104.7h0.9v0.9h-0.9zM85.6,110.8h0.9v0.9h-0.9zM61.5,130.0h0.9v0.9h-0.9zM71.3,99.4h0.9v0.9h-0.9zM83.2,105.0h0.9v0.9h-0.9zM73.6,124.7h0.9v0.9h-0.9zM61.2,129.9h0.9v0.9h-0.9zM69.2,101.8h0.9v0.9h-0.9zM65.3,118.3h0.9v0.9h-0.9zM60.6,125.4h0.9v0.9h-0.9zM78.9,95.9h0.9v0.9h-0.9zM84.0,91.4h0.9v0.9h-0.9zM79.5,89.2h0.9v0.9h-0.9zM73.6,129.5h0.9v0.9h-0.9zM56.5,125.6h0.9v0.9h-0.9zM93.2,105.1h0.9v0.9h-0.9zM76.0,110.9h0.9v0.9h-0.9zM55.0,126.9h0.9v0.9h-0.9zM87.6,116.0h0.9v0.9h-0.9zM88.7,111.9h0.9v0.9h-0.9zM79.8,108.8h0.9v0.9h-0.9zM78.0,114.9h0.9v0.9h-0.9zM69.9,113.3h0.9v0.9h-0.9zM80.2,117.1h0.9v0.9h-0.9zM76.7,125.5h0.9v0.9h-0.9zM62.5,128.3h0.9v0.9h-0.9zM65.5,106.5h0.9v0.9h-0.9zM59.2,122.4h0.9v0.9h-0.9zM80.6,90.8h0.9v0.9h-0.9zM81.4,113.7h0.9v0.9h-0.9zM59.8,120.0h0.9v0.9h-0.9zM75.4,106.2h0.9v0.9h-0.9zM78.1,112.2h0.9v0.9h-0.9zM72.5,106.5h0.9v0.9h-0.9zM96.8,105.5h0.9v0.9h-0.9zM90.0,107.3h0.9v0.9h-0.9zM67.2,126.9h0.9v0.9h-0.9zM83.0,89.7h0.9v0.9h-0.9zM68.1,105.2h0.9v0.9h-0.9zM66.8,108.4h0.9v0.9h-0.9zM94.2,106.4h0.9v0.9h-0.9zM70.3,121.0h0.9v0.9h-0.9zM79.7,103.4h0.9v0.9h-0.9zM80.5,95.3h0.9v0.9h-0.9zM76.6,109.0h0.9v0.9h-0.9zM66.0,117.6h0.9v0.9h-0.9zM83.9,96.9h0.9v0.9h-0.9zM87.6,109.2h0.9v0.9h-0.9zM59.3,121.2h0.9v0.9h-0.9zM117.4,111.7h0.9v0.9h-0.9zM113.3,112.9h0.9v0.9h-0.9zM116.3,129.2h0.9v0.9h-0.9zM114.5,105.5h0.9v0.9h-0.9zM119.4,122.6h0.9v0.9h-0.9zM125.1,106.3h0.9v0.9h-0.9zM122.4,105.1h0.9v0.9h-0.9zM115.4,117.6h0.9v0.9h-0.9zM125.0,124.9h0.9v0.9h-0.9zM120.1,112.0h0.9v0.9h-0.9zM113.5,122.3h0.9v0.9h-0.9zM122.2,118.9h0.9v0.9h-0.9zM124.4,107.5h0.9v0.9h-0.9zM121.9,118.1h0.9v0.9h-0.9zM119.6,110.2h0.9v0.9h-0.9zM113.9,108.0h0.9v0.9h-0.9zM116.0,124.1h0.9v0.9h-0.9zM114.7,107.5h0.9v0.9h-0.9zM116.0,108.1h0.9v0.9h-0.9zM113.8,103.0h0.9v0.9h-0.9zM116.7,122.3h0.9v0.9h-0.9zM122.9,113.3h0.9v0.9h-0.9zM124.8,112.1h0.9v0.9h-0.9zM122.4,103.3h0.9v0.9h-0.9zM93.3,91.6h0.9v0.9h-0.9zM88.9,97.8h0.9v0.9h-0.9zM89.8,93.1h0.9v0.9h-0.9zM95.1,78.5h0.9v0.9h-0.9zM94.2,81.4h0.9v0.9h-0.9zM98.0,82.6h0.9v0.9h-0.9zM91.5,92.0h0.9v0.9h-0.9zM92.3,92.1h0.9v0.9h-0.9zM97.6,86.1h0.9v0.9h-0.9zM84.0,62.1h0.9v0.9h-0.9zM89.2,64.7h0.9v0.9h-0.9zM82.5,60.3h0.9v0.9h-0.9zM82.7,63.4h0.9v0.9h-0.9zM110.1,92.5h0.9v0.9h-0.9z"/>
<path fill="#e4e4ea" stroke="none" d="M76.3,73.2h0.9v0.9h-0.9zM74.9,69.4h0.9v0.9h-0.9zM46.4,99.0h0.9v0.9h-0.9zM60.4,69.4h0.9v0.9h-0.9zM45.6,91.1h0.9v0.9h-0.9zM50.0,67.5h0.9v0.9h-0.9zM48.2,67.7h0.9v0.9h-0.9zM72.1,68.6h0.9v0.9h-0.9zM51.3,103.5h0.9v0.9h-0.9zM66.5,54.0h0.9v0.9h-0.9zM64.7,68.0h0.9v0.9h-0.9zM58.0,64.0h0.9v0.9h-0.9zM58.1,50.8h0.9v0.9h-0.9zM82.8,76.9h0.9v0.9h-0.9zM55.2,68.2h0.9v0.9h-0.9zM63.4,101.9h0.9v0.9h-0.9zM63.6,67.3h0.9v0.9h-0.9zM49.7,59.7h0.9v0.9h-0.9zM46.6,72.3h0.9v0.9h-0.9zM66.8,91.3h0.9v0.9h-0.9zM52.5,94.1h0.9v0.9h-0.9zM54.6,93.0h0.9v0.9h-0.9zM75.6,62.4h0.9v0.9h-0.9zM73.1,92.3h0.9v0.9h-0.9zM66.3,79.3h0.9v0.9h-0.9zM59.9,55.6h0.9v0.9h-0.9zM52.8,76.1h0.9v0.9h-0.9zM50.4,88.8h0.9v0.9h-0.9zM60.9,95.3h0.9v0.9h-0.9zM66.7,83.2h0.9v0.9h-0.9zM51.2,89.7h0.9v0.9h-0.9zM53.0,53.6h0.9v0.9h-0.9zM81.7,87.1h0.9v0.9h-0.9zM73.4,76.3h0.9v0.9h-0.9zM66.5,61.1h0.9v0.9h-0.9zM49.2,70.3h0.9v0.9h-0.9zM64.9,54.5h0.9v0.9h-0.9zM80.9,79.9h0.9v0.9h-0.9zM52.8,82.8h0.9v0.9h-0.9zM68.3,49.9h0.9v0.9h-0.9zM47.3,93.4h0.9v0.9h-0.9zM44.1,101.9h0.9v0.9h-0.9zM72.4,90.3h0.9v0.9h-0.9zM67.9,83.5h0.9v0.9h-0.9zM45.4,94.5h0.9v0.9h-0.9zM55.6,58.3h0.9v0.9h-0.9zM59.4,56.2h0.9v0.9h-0.9zM45.0,99.6h0.9v0.9h-0.9zM64.4,59.0h0.9v0.9h-0.9zM61.8,62.2h0.9v0.9h-0.9zM57.1,48.8h0.9v0.9h-0.9zM48.8,53.2h0.9v0.9h-0.9zM75.7,90.8h0.9v0.9h-0.9zM54.5,73.8h0.9v0.9h-0.9zM59.0,80.6h0.9v0.9h-0.9zM63.1,69.4h0.9v0.9h-0.9zM54.3,64.7h0.9v0.9h-0.9zM51.2,61.5h0.9v0.9h-0.9zM71.5,86.5h0.9v0.9h-0.9zM68.7,85.0h0.9v0.9h-0.9zM60.0,94.7h0.9v0.9h-0.9zM54.5,100.3h0.9v0.9h-0.9zM55.3,86.5h0.9v0.9h-0.9zM57.5,58.2h0.9v0.9h-0.9zM51.9,70.3h0.9v0.9h-0.9zM61.6,50.6h0.9v0.9h-0.9zM73.5,60.3h0.9v0.9h-0.9zM46.4,73.1h0.9v0.9h-0.9zM73.1,57.0h0.9v0.9h-0.9zM46.0,79.0h0.9v0.9h-0.9zM55.5,103.8h0.9v0.9h-0.9zM65.7,98.6h0.9v0.9h-0.9zM68.1,63.0h0.9v0.9h-0.9zM68.9,75.1h0.9v0.9h-0.9zM52.4,89.4h0.9v0.9h-0.9zM83.7,73.9h0.9v0.9h-0.9zM41.4,90.6h0.9v0.9h-0.9zM63.9,94.6h0.9v0.9h-0.9zM49.3,78.2h0.9v0.9h-0.9zM67.9,74.3h0.9v0.9h-0.9zM79.0,78.6h0.9v0.9h-0.9zM72.1,79.8h0.9v0.9h-0.9zM68.6,79.6h0.9v0.9h-0.9zM83.7,74.8h0.9v0.9h-0.9zM79.0,84.6h0.9v0.9h-0.9zM47.5,86.6h0.9v0.9h-0.9zM64.6,69.2h0.9v0.9h-0.9zM44.2,102.7h0.9v0.9h-0.9zM83.5,79.0h0.9v0.9h-0.9zM68.5,90.6h0.9v0.9h-0.9zM77.7,107.8h0.9v0.9h-0.9zM86.3,117.1h0.9v0.9h-0.9zM96.3,111.4h0.9v0.9h-0.9zM72.8,108.7h0.9v0.9h-0.9zM83.0,114.3h0.9v0.9h-0.9zM59.4,122.5h0.9v0.9h-0.9zM74.0,107.9h0.9v0.9h-0.9zM68.7,114.8h0.9v0.9h-0.9zM79.9,124.1h0.9v0.9h-0.9zM64.4,115.6h0.9v0.9h-0.9zM73.6,115.8h0.9v0.9h-0.9zM78.9,108.7h0.9v0.9h-0.9zM86.8,100.3h0.9v0.9h-0.9zM95.6,111.4h0.9v0.9h-0.9zM76.7,98.0h0.9v0.9h-0.9zM89.2,107.4h0.9v0.9h-0.9zM58.9,129.2h0.9v0.9h-0.9zM80.8,114.9h0.9v0.9h-0.9zM55.4,124.9h0.9v0.9h-0.9zM80.9,121.8h0.9v0.9h-0.9zM81.2,93.7h0.9v0.9h-0.9zM64.7,129.3h0.9v0.9h-0.9zM80.8,112.2h0.9v0.9h-0.9zM85.5,115.7h0.9v0.9h-0.9zM87.2,99.4h0.9v0.9h-0.9zM70.8,100.6h0.9v0.9h-0.9zM71.3,122.5h0.9v0.9h-0.9zM64.7,122.9h0.9v0.9h-0.9zM73.2,115.4h0.9v0.9h-0.9zM57.3,128.3h0.9v0.9h-0.9zM68.5,108.0h0.9v0.9h-0.9zM80.4,99.4h0.9v0.9h-0.9zM73.0,112.3h0.9v0.9h-0.9zM85.9,115.7h0.9v0.9h-0.9zM78.9,101.5h0.9v0.9h-0.9zM76.6,119.0h0.9v0.9h-0.9zM84.4,117.4h0.9v0.9h-0.9zM78.9,109.4h0.9v0.9h-0.9zM70.8,127.1h0.9v0.9h-0.9zM77.6,118.7h0.9v0.9h-0.9zM69.5,102.4h0.9v0.9h-0.9zM77.1,101.5h0.9v0.9h-0.9zM91.5,109.7h0.9v0.9h-0.9zM81.6,92.4h0.9v0.9h-0.9zM67.0,113.0h0.9v0.9h-0.9zM74.3,119.9h0.9v0.9h-0.9zM85.9,112.6h0.9v0.9h-0.9zM63.5,105.9h0.9v0.9h-0.9zM72.7,121.9h0.9v0.9h-0.9zM91.1,104.6h0.9v0.9h-0.9zM73.3,119.9h0.9v0.9h-0.9zM93.7,108.6h0.9v0.9h-0.9zM74.1,104.8h0.9v0.9h-0.9zM62.7,116.8h0.9v0.9h-0.9zM116.9,114.5h0.9v0.9h-0.9zM119.2,127.0h0.9v0.9h-0.9zM113.4,116.5h0.9v0.9h-0.9zM112.2,129.0h0.9v0.9h-0.9zM123.9,114.0h0.9v0.9h-0.9zM123.3,105.3h0.9v0.9h-0.9zM125.7,106.3h0.9v0.9h-0.9zM125.6,127.1h0.9v0.9h-0.9zM115.1,120.7h0.9v0.9h-0.9zM92.0,86.4h0.9v0.9h-0.9zM99.9,79.6h0.9v0.9h-0.9zM93.3,88.1h0.9v0.9h-0.9zM94.4,78.0h0.9v0.9h-0.9zM98.5,82.4h0.9v0.9h-0.9zM97.3,89.0h0.9v0.9h-0.9zM88.8,88.9h0.9v0.9h-0.9zM89.9,85.2h0.9v0.9h-0.9zM94.0,84.4h0.9v0.9h-0.9zM114.4,91.0h0.9v0.9h-0.9zM106.8,88.7h0.9v0.9h-0.9zM112.8,90.9h0.9v0.9h-0.9zM109.0,87.5h0.9v0.9h-0.9zM110.0,88.2h0.9v0.9h-0.9z"/>
<path fill="#a9a4d4" stroke="none" d="M130.6,73.3h0.9v0.9h-0.9zM133.5,72.9h0.9v0.9h-0.9zM129.4,79.1h0.9v0.9h-0.9zM135.0,71.7h0.9v0.9h-0.9zM131.5,70.0h0.9v0.9h-0.9zM132.5,65.7h0.9v0.9h-0.9zM129.4,78.3h0.9v0.9h-0.9zM132.9,76.3h0.9v0.9h-0.9zM130.8,75.5h0.9v0.9h-0.9zM132.6,75.7h0.9v0.9h-0.9zM131.9,67.3h0.9v0.9h-0.9zM131.1,79.8h0.9v0.9h-0.9zM133.6,74.3h0.9v0.9h-0.9zM132.2,79.1h0.9v0.9h-0.9zM133.8,66.4h0.9v0.9h-0.9zM130.8,76.3h0.9v0.9h-0.9zM132.3,71.4h0.9v0.9h-0.9zM132.8,70.8h0.9v0.9h-0.9zM132.5,77.9h0.9v0.9h-0.9z"/>
<!-- EDOTS END -->
</g>
<circle cx="251.1" cy="232.4" r="16.8" fill="none" stroke="#111" stroke-width="2"/>
<text x="283.9" y="226.8" font-size="8.5">TP: 0.46</text>
<text x="283.9" y="236.6" font-size="8.5">TN: 0.99</text>
<text x="312.2" y="256.3" font-size="8.5" text-anchor="middle">TNFRSF1B</text>
<text x="312.3" y="263.8" font-size="8.5" text-anchor="middle">expression</text>
<text x="317.3" y="286.6" font-size="8.5" text-anchor="middle">High</text>
<defs><linearGradient id="gE" x1="0" y1="0" x2="0" y2="1"><stop offset="0" stop-color="#42449e"/><stop offset="0.55" stop-color="#8a6cbc"/><stop offset="1" stop-color="#eee6f6"/></linearGradient></defs>
<rect x="313.3" y="289.4" width="7.9" height="27.5" fill="url(#gE)"/>
<text x="317.3" y="325.6" font-size="8.5" text-anchor="middle">Low</text>
<path d="M193.1,348.6 V321.5 M193.1,348.6 H220" stroke="#222" stroke-width="1"/>
<path d="M193.1,318.3 L191.3,322.3 L194.9,322.3 Z M223.2,348.6 L219.2,346.8 L219.2,350.4 Z" fill="#222"/>
<text font-size="8.4" transform="translate(185.9,335.5) rotate(-90)" text-anchor="middle">UMAP-2</text>
<text x="204.7" y="362.7" font-size="8.4" text-anchor="middle">UMAP-1</text>
</g>

<!-- ===== Panel F ===== -->
<g id="pF">
<text class="b" x="352.2" y="182.1" font-size="10">F</text>
<path d="M377.3,213.3 V294.4 H499.5" stroke="#231f20" stroke-width="1" fill="none"/>
<path stroke="#231f20" stroke-width="0.8" d="M374.3,221.3 H377.3 M374.3,257.6 H377.3 M374.3,293.9 H377.3 M375.3,217.7 H377.3 M375.3,224.9 H377.3 M375.3,228.6 H377.3 M375.3,232.2 H377.3 M375.3,235.8 H377.3 M375.3,239.4 H377.3 M375.3,243.1 H377.3 M375.3,246.7 H377.3 M375.3,250.3 H377.3 M375.3,254 H377.3 M375.3,261.2 H377.3 M375.3,264.8 H377.3 M375.3,268.5 H377.3 M375.3,272.1 H377.3 M375.3,275.7 H377.3 M375.3,279.4 H377.3 M375.3,283 H377.3 M375.3,286.6 H377.3 M375.3,290.3 H377.3 M377.3,294.4 V297.5 M407.8,294.4 V297.5 M438.3,294.4 V297.5 M468.8,294.4 V297.5 M499.3,294.4 V297.5"/>
<g font-size="8.7">
<text x="373" y="224.9" text-anchor="end">100</text>
<text x="373" y="261.2" text-anchor="end">50</text>
<text x="373" y="297.5" text-anchor="end">0</text>
<text x="377.3" y="306.3" text-anchor="middle">0</text>
<text x="407.8" y="306.3" text-anchor="middle">10</text>
<text x="438.3" y="306.3" text-anchor="middle">20</text>
<text x="468.8" y="306.3" text-anchor="middle">30</text>
<text x="499.3" y="306.3" text-anchor="middle">40</text>
<text x="439.3" y="318.3" text-anchor="middle">Time since sample (months)</text>
<text transform="translate(352.8,258.5) rotate(-90)" text-anchor="middle">Probability of survival</text>
<text x="403.7" y="224.5"><tspan font-style="italic">P</tspan> = 0.007</text>
</g>
<path d="M377.3,220.7 H386.1 V226.4 H401.4 V232.2 H407.5 V238.3 H440.2 V246.3 H444 V254 H476.7 V294" stroke="#2c3d9a" stroke-width="1.3" fill="none"/>
<path d="M377.3,220.7 H379.8 V227 H383.2 V233.7 H386.1 V240.3 H392.5 V247.2 H398 V254.1 H400.8 V261.6 H407.2 V269.7 H410.3 V278 H428.5" stroke="#3ca84a" stroke-width="1.3" fill="none"/>
<path d="M422.3,237 V239.6 M437,237 V239.6 M449.2,252.7 V255.3 M458,252.7 V255.3 M466.2,252.7 V255.3 M468.5,252.7 V255.3" stroke="#2c3d9a" stroke-width="0.7"/>
<path d="M417.7,276.7 V279.3 M423,276.7 V279.3" stroke="#3ca84a" stroke-width="0.7"/>
<path d="M451.4,231.6 H459.4" stroke="#2c3d9a" stroke-width="1.5"/>
<path d="M451.4,242 H459.4" stroke="#3ca84a" stroke-width="1.5"/>
<text x="461.8" y="234.6" font-size="8.7" fill="#2c3d9a" style="stroke:#2c3d9a;stroke-width:0.12">Low CD120b<tspan font-size="5.5" dy="-3">+</tspan></text>
<text x="461.8" y="245" font-size="8.7" fill="#3ca84a" style="stroke:#3ca84a;stroke-width:0.12">High CD120b<tspan font-size="5.5" dy="-3">+</tspan></text>
</g>

<!-- BOTTOM START -->
<!-- ===== Panel G ===== -->
<g id="pG">
<text class="b" x="1.3" y="414" font-size="10">G</text>
<path d="M55.7,413 V513.5 H124.8" stroke="#231f20" stroke-width="1" fill="none"/>
<path stroke="#231f20" stroke-width="0.9" d="M52.2,413 H55.7 M52.2,446.5 H55.7 M52.2,480.3 H55.7 M52.2,513.5 H55.7"/>
<text x="49.4" y="415.9" font-size="8.3" text-anchor="end">1,000</text>
<text x="49.4" y="449.4" font-size="8.3" text-anchor="end">100</text>
<text x="49.4" y="483.2" font-size="8.3" text-anchor="end">10</text>
<text x="49.4" y="516.4" font-size="8.3" text-anchor="end">1</text>
<text font-size="8.6" transform="translate(22.8,464.2) rotate(-90)" text-anchor="middle">WBC (×10<tspan font-size="5.5" dy="-3">9</tspan><tspan dy="3"> cells/L)</tspan></text>
<path d="M72,411.2 H103.1" stroke="#111" stroke-width="1.5"/>
<text x="87.3" y="407.6" font-size="8" text-anchor="middle" font-weight="bold">**</text>
<path d="M75.6,461.4 V507.2 M71.1,461.4 H80.1 M71.1,507.2 H80.1" stroke="#2f44a2" stroke-width="1"/>
<rect x="66.3" y="483.4" width="18.5" height="12.7" fill="#3a4fae" stroke="#2f44a2" stroke-width="0.8"/>
<path d="M75.6,458.79999999999995 L78.19999999999999,461.4 L75.6,464.0 L73.0,461.4 Z" fill="#2f44a2"/><circle cx="75.6" cy="474.2" r="2.3" fill="#2f44a2"/><circle cx="72.1" cy="480.2" r="2.3" fill="#2f44a2"/><circle cx="70" cy="486" r="2.2" fill="#3a4fae"/><circle cx="82" cy="486" r="2.2" fill="#3a4fae"/><circle cx="69" cy="494.5" r="2.3" fill="#3a4fae"/><circle cx="83" cy="494.8" r="2.3" fill="#3a4fae"/><circle cx="76" cy="496.5" r="2.3" fill="#3a4fae"/><path d="M75.6,504.59999999999997 L78.19999999999999,507.2 L75.6,509.8 L73.0,507.2 Z" fill="#2f44a2"/>
<path d="M104.4,427.9 V503.6 M99.9,427.9 H108.9 M99.9,503.6 H108.9" stroke="#36a83f" stroke-width="1"/>
<rect x="95.2" y="460.1" width="19" height="21" fill="#45b74b" stroke="#36a83f" stroke-width="0.8"/>
<path d="M104.4,425.29999999999995 L107.0,427.9 L104.4,430.5 L101.80000000000001,427.9 Z" fill="#36a83f"/><rect x="102.2" y="443.6" width="4.4" height="4.4" fill="#36a83f"/><rect x="102.2" y="455.3" width="4.4" height="4.4" fill="#36a83f"/><rect x="102.2" y="482.40000000000003" width="4.4" height="4.4" fill="#36a83f"/><rect x="101.6" y="485.0" width="4.4" height="4.4" fill="#36a83f"/><circle cx="104.4" cy="503.6" r="2.4" fill="#36a83f"/><rect x="107" y="462" width="4" height="4" fill="#45b74b"/><rect x="98" y="468" width="4" height="4" fill="#45b74b"/>
</g>
<!-- ===== Panel H ===== -->
<g id="pH">
<text class="b" x="181.6" y="414" font-size="10">H</text>
<path d="M223,418 V513.5 H287.5" stroke="#231f20" stroke-width="1" fill="none"/>
<path stroke="#231f20" stroke-width="0.9" d="M219.5,418 H223 M219.5,441.7 H223 M219.5,465.6 H223 M219.5,489.6 H223 M219.5,513.5 H223"/>
<text x="215.8" y="420.9" font-size="8.3" text-anchor="end">100</text>
<text x="215.8" y="444.6" font-size="8.3" text-anchor="end">10</text>
<text x="215.8" y="468.5" font-size="8.3" text-anchor="end">1</text>
<text x="215.8" y="492.5" font-size="8.3" text-anchor="end">0.1</text>
<text x="215.8" y="516.4" font-size="8.3" text-anchor="end">0.01</text>
<text font-size="8.1" transform="translate(188.1,463.6) rotate(-90)" text-anchor="middle">Absolute monocytosis</text>
<text font-size="8.1" transform="translate(197.0,465.8) rotate(-90)" text-anchor="middle">(k/μL)</text>
<path d="M238.2,413 H270.5" stroke="#111" stroke-width="1.5"/>
<text x="252.2" y="407.6" font-size="8" text-anchor="middle" font-weight="bold">**</text>
<path d="M241.4,437.5 V497.3 M236.9,437.5 H245.9 M236.9,497.3 H245.9" stroke="#2f44a2" stroke-width="1"/>
<rect x="232.4" y="456" width="17.4" height="15.8" fill="#3a4fae" stroke="#2f44a2" stroke-width="0.8"/>
<path d="M241.4,434.9 L244.0,437.5 L241.4,440.1 L238.8,437.5 Z" fill="#2f44a2"/><circle cx="234.6" cy="452.1" r="2.3" fill="#2f44a2"/><circle cx="241.4" cy="487.5" r="2.3" fill="#2f44a2"/><circle cx="239" cy="474.9" r="2.3" fill="#2f44a2"/><circle cx="249" cy="467.7" r="2.1" fill="#3a4fae"/><circle cx="244" cy="455" r="2" fill="#3a4fae"/><path d="M241.4,494.7 L244.0,497.3 L241.4,499.90000000000003 L238.8,497.3 Z" fill="#2f44a2"/>
<path d="M268.7,418.3 V483.3 M264.2,418.3 H273.2 M264.2,483.3 H273.2" stroke="#36a83f" stroke-width="1"/>
<rect x="259.3" y="442.6" width="18.4" height="14.3" fill="#45b74b" stroke="#36a83f" stroke-width="0.8"/>
<path d="M268.7,415.7 L271.3,418.3 L268.7,420.90000000000003 L266.09999999999997,418.3 Z" fill="#36a83f"/><rect x="266.5" y="428.7" width="4.4" height="4.4" fill="#36a83f"/><rect x="266.5" y="437.7" width="4.4" height="4.4" fill="#36a83f"/><rect x="266.5" y="461.0" width="4.4" height="4.4" fill="#36a83f"/><circle cx="268.7" cy="483.3" r="2.4" fill="#36a83f"/>
</g>
<!-- ===== Panel I ===== -->
<g id="pI">
<text class="b" x="333.9" y="414.1" font-size="10">I</text>
<path d="M363.5,411.9 V514.2 H432.8" stroke="#231f20" stroke-width="1" fill="none"/>
<path stroke="#231f20" stroke-width="0.9" d="M360.0,411.9 H363.5 M360.0,446.2 H363.5 M360.0,480.4 H363.5 M360.0,514.2 H363.5"/>
<text x="358.8" y="414.8" font-size="8.3" text-anchor="end">100</text>
<text x="358.8" y="449.1" font-size="8.3" text-anchor="end">10</text>
<text x="358.8" y="483.3" font-size="8.3" text-anchor="end">1</text>
<text x="358.8" y="517.1" font-size="8.3" text-anchor="end">0.1</text>
<text font-size="8.5" transform="translate(336.9,463.2) rotate(-90)" text-anchor="middle">ANC level (k/μL)</text>
<path d="M382.5,410.2 H413.4" stroke="#111" stroke-width="1.5"/>
<text x="398.4" y="407.5" font-size="8" text-anchor="middle" font-weight="bold">*</text>
<path d="M384.6,438.8 V503.9 M380.1,438.8 H389.1 M380.1,503.9 H389.1" stroke="#2f44a2" stroke-width="1"/>
<rect x="374" y="457.4" width="19.7" height="20.5" fill="#3a4fae" stroke="#2f44a2" stroke-width="0.8"/>
<path d="M384.6,436.2 L387.20000000000005,438.8 L384.6,441.40000000000003 L382.0,438.8 Z" fill="#2f44a2"/><circle cx="384.6" cy="449.5" r="2.3" fill="#2f44a2"/><circle cx="384.6" cy="481.7" r="2.3" fill="#2f44a2"/><circle cx="384.6" cy="487.4" r="2.3" fill="#2f44a2"/><circle cx="375" cy="457.5" r="2" fill="#2f44a2"/><circle cx="393" cy="457.5" r="2" fill="#2f44a2"/><circle cx="384.6" cy="503.9" r="2.5" fill="#2f44a2"/>
<path d="M413.4,424.6 V481.7 M408.9,424.6 H417.9 M408.9,481.7 H417.9" stroke="#36a83f" stroke-width="1"/>
<rect x="403.6" y="435.6" width="19.1" height="30.9" fill="#45b74b" stroke="#36a83f" stroke-width="0.8"/>
<path d="M413.4,422.0 L416.0,424.6 L413.4,427.20000000000005 L410.79999999999995,424.6 Z" fill="#36a83f"/><rect x="418.40000000000003" y="427.7" width="4.4" height="4.4" fill="#36a83f"/><rect x="407.40000000000003" y="470.0" width="4.4" height="4.4" fill="#36a83f"/><rect x="414.1" y="473.1" width="4.4" height="4.4" fill="#36a83f"/><rect x="411.2" y="479.5" width="4.4" height="4.4" fill="#36a83f"/>
<rect x="438.3" y="418.5" width="11.1" height="7.6" fill="#3a4fae" stroke="#2f44a2" stroke-width="0.6"/>
<rect x="438.3" y="437.2" width="11.1" height="7.6" fill="#45b74b" stroke="#36a83f" stroke-width="0.6"/>
<text x="452.8" y="425.4" font-size="9" fill="#3a4ca6" style="stroke:#3a4ca6;stroke-width:0.12">Low CD120b<tspan font-size="5.6" dy="-3.3">+</tspan></text>
<text x="452.8" y="444.1" font-size="9" fill="#4aae4c" style="stroke:#4aae4c;stroke-width:0.12">High CD120b<tspan font-size="5.6" dy="-3.3">+</tspan></text>
</g>
<!-- ===== Panel J ===== -->
<g id="pJ">
<text class="b" x="4.4" y="547" font-size="10">J</text>
<path d="M55.5,548.5 V639.3 H116.7" stroke="#231f20" stroke-width="1" fill="none"/>
<path stroke="#231f20" stroke-width="0.9" d="M52.0,548.5 H55.5 M52.0,593.9 H55.5 M52.0,639.3 H55.5"/>
<text x="50" y="551.5" font-size="8.6" text-anchor="end">100,000</text>
<text x="50" y="596.9" font-size="8.6" text-anchor="end">10,000</text>
<text x="50" y="642.3" font-size="8.6" text-anchor="end">1,000</text>
<text font-size="8.6" transform="translate(15.4,593.9) rotate(-90)" text-anchor="middle">CD120b MFI</text>
<path d="M72.2,553.8 H103.3" stroke="#111" stroke-width="1.5"/>
<text x="87.4" y="551.4" font-size="8" text-anchor="middle" font-weight="bold">*</text>
<path d="M73.1,564.1 V607.3 M69.39999999999999,564.1 H76.8" stroke="#a8442a" stroke-width="1.2"/>
<rect x="64.2" y="607.3" width="17.5" height="32" fill="#cf8a6c" stroke="#a8442a" stroke-width="0.9"/>
<path d="M73.1,561.6 L75.6,564.1 L73.1,566.6 L70.6,564.1 Z" fill="#a8442a"/><path d="M73.1,585.4 L75.6,587.9 L73.1,590.4 L70.6,587.9 Z" fill="#b85a3a"/><path d="M73.1,594.1 L75.6,596.6 L73.1,599.1 L70.6,596.6 Z" fill="#b85a3a"/><circle cx="73.5" cy="626" r="2.3" fill="#c06a48"/><circle cx="71" cy="629.5" r="2" fill="#c06a48"/>
<circle cx="66" cy="636.5" r="2.5" fill="#c0603e"/><circle cx="70" cy="636.5" r="2.5" fill="#c0603e"/><circle cx="74" cy="636.5" r="2.5" fill="#c0603e"/><circle cx="78" cy="636.5" r="2.5" fill="#c0603e"/><circle cx="81" cy="636.5" r="2.5" fill="#c0603e"/>
<circle cx="65.5" cy="632.8" r="2.2" fill="#c0603e"/><circle cx="76" cy="632.8" r="2.2" fill="#c0603e"/><circle cx="80.5" cy="632.8" r="2.2" fill="#c0603e"/>
<path d="M99.2,639.3 V642.4 M73.1,639.3 V642.4" stroke="#231f20" stroke-width="0.9"/>
<rect x="90.9" y="587.4" width="17" height="45.5" fill="#c45e8c" stroke="#8e1f52" stroke-width="1"/>
<path d="M90.9,599.6 H107.9" stroke="#8e1f52" stroke-width="1"/>
<rect x="89.7" y="584.8000000000001" width="3.6" height="3.6" fill="#8e1f52"/><rect x="105.7" y="585.6999999999999" width="3.2" height="3.2" fill="#8e1f52"/><rect x="89.7" y="630.8000000000001" width="3.6" height="3.6" fill="#8e1f52"/><rect x="105.7" y="630.8" width="3.2" height="3.2" fill="#8e1f52"/><rect x="97.4" y="597.8000000000001" width="3.6" height="3.6" fill="#b04a78"/><rect x="97.4" y="617.5" width="3.6" height="3.6" fill="#b04a78"/>
<rect x="95.2" y="587.6" width="8.2" height="2" rx="1" fill="#fff" stroke="#8e1f52" stroke-width="0.6"/>
<rect x="95.2" y="628.4" width="8.2" height="2" rx="1" fill="#fff" stroke="#8e1f52" stroke-width="0.6"/>
<text font-size="8.7" text-anchor="end" transform="translate(75.2,651.2) rotate(-45)">MDS-CMML</text>
<text font-size="8.7" text-anchor="end" transform="translate(100.9,651.2) rotate(-45)">MPN-CMML</text>
</g>
<!-- ===== Panel K ===== -->
<g id="pK">
<text class="b" x="129.9" y="547" font-size="10">K</text>
<path d="M183.3,549.5 V638.8 H244" stroke="#231f20" stroke-width="1" fill="none"/>
<path stroke="#231f20" stroke-width="0.9" d="M179.8,549.5 H183.3 M179.8,594.15 H183.3 M179.8,638.8 H183.3"/>
<text x="179.1" y="552.5" font-size="8.6" text-anchor="end">100,000</text>
<text x="179.1" y="597.1" font-size="8.6" text-anchor="end">10,000</text>
<text x="179.1" y="641.8" font-size="8.6" text-anchor="end">1,000</text>
<text font-size="8.6" transform="translate(144.2,594.15) rotate(-90)" text-anchor="middle">CD120b MFI</text>
<path d="M198.8,551.9 H227.1" stroke="#111" stroke-width="1.5"/>
<text x="212.9" y="551.7" font-size="8" text-anchor="middle" font-weight="bold">*</text>
<path d="M200.9,586.8 V624.9 M197.4,586.8 H204.4 M200.9,638.8 V641.8 M226.3,638.8 V641.8" stroke="#a8442a" stroke-width="1.2"/>
<rect x="191.8" y="624.9" width="17.5" height="13.9" fill="#cf8a6c" stroke="#a8442a" stroke-width="0.9"/>
<path d="M200.9,584.4 L203.3,586.8 L200.9,589.1999999999999 L198.5,586.8 Z" fill="#a8442a"/><path d="M200.9,617.2 L203.3,619.6 L200.9,622.0 L198.5,619.6 Z" fill="#b85a3a"/><circle cx="196" cy="636" r="2" fill="#c0603e"/><circle cx="205" cy="636" r="2" fill="#c0603e"/><circle cx="200" cy="632" r="1.8" fill="#c0603e"/>
<path d="M226.3,565.7 V586.4 M226.3,634.4 V639.6" stroke="#8e1f52" stroke-width="1"/>
<rect x="218.6" y="586.4" width="16.1" height="48" fill="#c45e8c" stroke="#8e1f52" stroke-width="1"/>
<path d="M218.6,599.5 H234.7" stroke="#8e1f52" stroke-width="1"/>
<rect x="221.9" y="563.8" width="4.4" height="4.4" fill="#8e1f52"/><rect x="227.0" y="563.5" width="4.4" height="4.4" fill="#8e1f52"/><rect x="224.5" y="575.2" width="3.6" height="3.6" fill="#8e1f52"/><rect x="218.2" y="585.2" width="3.6" height="3.6" fill="#8e1f52"/><rect x="231.2" y="585.2" width="3.6" height="3.6" fill="#8e1f52"/><rect x="218.3" y="635.5" width="4" height="4" fill="#8e1f52"/><rect x="224.60000000000002" y="603.3" width="3.4" height="3.4" fill="#b04a78"/><rect x="220.3" y="617.3" width="3.4" height="3.4" fill="#b04a78"/><rect x="229.3" y="621.3" width="3.4" height="3.4" fill="#b04a78"/><rect x="230.2" y="630.2" width="3.6" height="3.6" fill="#8e1f52"/>
<rect x="218.8" y="587.3" width="3.4" height="3.4" fill="#a02e64"/><rect x="222.8" y="588.8" width="3.4" height="3.4" fill="#a02e64"/><rect x="227.3" y="587.8" width="3.4" height="3.4" fill="#a02e64"/><rect x="231.3" y="587.3" width="3.4" height="3.4" fill="#a02e64"/><rect x="219.8" y="592.8" width="3.4" height="3.4" fill="#a02e64"/><rect x="224.8" y="594.3" width="3.4" height="3.4" fill="#a02e64"/><rect x="229.8" y="591.8" width="3.4" height="3.4" fill="#a02e64"/><rect x="218.8" y="625.3" width="3.4" height="3.4" fill="#a02e64"/><rect x="222.8" y="626.8" width="3.4" height="3.4" fill="#a02e64"/><rect x="227.3" y="626.3" width="3.4" height="3.4" fill="#a02e64"/><rect x="231.3" y="625.3" width="3.4" height="3.4" fill="#a02e64"/><rect x="219.8" y="631.8" width="3.4" height="3.4" fill="#a02e64"/><rect x="229.3" y="632.3" width="3.4" height="3.4" fill="#a02e64"/><rect x="231.8" y="635.5999999999999" width="3.4" height="3.4" fill="#a02e64"/><rect x="226.3" y="634.8" width="3.4" height="3.4" fill="#a02e64"/>
<rect x="222" y="630.6" width="6" height="1.8" fill="#fff"/>
<text font-size="8.7" text-anchor="end" transform="translate(202.2,651.2) rotate(-45)">CMML-0</text>
<text font-size="8.7" text-anchor="end" transform="translate(227.7,651.2) rotate(-45)">CMML-1/2/AML</text>
</g>
<!-- ===== Panel L ===== -->
<g id="pL">
<text class="b" x="260.8" y="546.5" font-size="10">L</text>
<path d="M314.5,550.2 V639.5 H373.7" stroke="#231f20" stroke-width="1" fill="none"/>
<path stroke="#231f20" stroke-width="0.9" d="M311.0,550.2 H314.5 M311.0,594.85 H314.5 M311.0,639.5 H314.5"/>
<text x="308.8" y="553.2" font-size="8.6" text-anchor="end">100,000</text>
<text x="308.8" y="597.8" font-size="8.6" text-anchor="end">10,000</text>
<text x="308.8" y="642.5" font-size="8.6" text-anchor="end">1,000</text>
<text font-size="8.6" transform="translate(275.0,594.85) rotate(-90)" text-anchor="middle">CD120b MFI</text>
<path d="M330,552 H358" stroke="#111" stroke-width="1.5"/>
<text x="343.75" y="549.85" font-size="8" text-anchor="middle" font-weight="bold">**</text>
<path d="M331.25,597.5 V618.75 M327.75,597.5 H334.75 M331.25,639.5 V642.5 M357.5,639.5 V642.5" stroke="#a8442a" stroke-width="1.2"/>
<rect x="323" y="618.75" width="15.75" height="20.75" fill="#cf8a6c" stroke="#a8442a" stroke-width="0.9"/>
<path d="M329.5,594.6 L331.9,597 L329.5,599.4 L327.1,597 Z" fill="#a8442a"/><path d="M333,596.3 L335.2,598.5 L333,600.7 L330.8,598.5 Z" fill="#a8442a"/><circle cx="335" cy="630" r="1.8" fill="#c0603e"/><circle cx="326" cy="636" r="2.2" fill="#c0603e"/><circle cx="331" cy="637" r="2.2" fill="#c0603e"/><circle cx="336" cy="636" r="2.2" fill="#c0603e"/>
<path d="M357.5,567 V589.25 M357.5,628.75 V636.25 M354.0,567 H361.0" stroke="#8e1f52" stroke-width="1"/>
<rect x="349.5" y="589.25" width="15.5" height="39.5" fill="#c45e8c" stroke="#8e1f52" stroke-width="1"/>
<path d="M349.5,602.5 H365" stroke="#8e1f52" stroke-width="1"/>
<path d="M357.5,564.5 L360.0,567 L357.5,569.5 L355.0,567 Z" fill="#8e1f52"/><rect x="348.7" y="587.7" width="3.6" height="3.6" fill="#8e1f52"/><rect x="362.2" y="587.7" width="3.6" height="3.6" fill="#8e1f52"/><rect x="355.8" y="591.8" width="3.4" height="3.4" fill="#b04a78"/><rect x="355.8" y="617.3" width="3.4" height="3.4" fill="#b04a78"/><rect x="348.7" y="626.2" width="3.6" height="3.6" fill="#8e1f52"/><rect x="362.2" y="626.2" width="3.6" height="3.6" fill="#8e1f52"/><path d="M357.5,633.7 L359.8,636 L357.5,638.3 L355.2,636 Z" fill="#8e1f52"/>
<text font-size="8.7" text-anchor="end" transform="translate(332.7,651.2) rotate(-45)">Low risk</text>
<text font-size="8.7" text-anchor="end" transform="translate(359.0,651.2) rotate(-45)">High risk</text>
</g>
<!-- ===== Panel M ===== -->
<g id="pM">
<text class="b" x="394.1" y="546.8" font-size="10">M</text>
<path d="M448.6,549.5 V639.6 H509.7" stroke="#231f20" stroke-width="1" fill="none"/>
<path stroke="#231f20" stroke-width="0.9" d="M445.1,549.5 H448.6 M445.1,594.55 H448.6 M445.1,639.6 H448.6"/>
<text x="443.4" y="552.5" font-size="8.6" text-anchor="end">100,000</text>
<text x="443.4" y="597.5" font-size="8.6" text-anchor="end">10,000</text>
<text x="443.4" y="642.6" font-size="8.6" text-anchor="end">1,000</text>
<text font-size="8.6" transform="translate(407.5,594.55) rotate(-90)" text-anchor="middle">CD120b MFI</text>
<path d="M464.2,552.9 H492" stroke="#111" stroke-width="1.5"/>
<text x="478" y="550.5" font-size="8" text-anchor="middle" font-weight="bold">*</text>
<path d="M465.5,639.6 V642.6 M491.5,639.6 V642.6" stroke="#231f20" stroke-width="0.9"/>
<circle cx="460" cy="637.5" r="2" fill="#c0603e"/><circle cx="465" cy="636" r="2" fill="#c0603e"/><circle cx="469" cy="636.5" r="2" fill="#c0603e"/><circle cx="472.5" cy="636.8" r="1.8" fill="#c0603e"/>
<path d="M459,636.5 H473" stroke="#a8442a" stroke-width="1"/>
<path d="M491.5,566.4 V587.7 M488.0,566.4 H495.0" stroke="#8e1f52" stroke-width="1"/>
<rect x="484.5" y="587.7" width="15.3" height="51.9" fill="#c45e8c" stroke="#8e1f52" stroke-width="1"/>
<path d="M484.5,627.4 H499.8" stroke="#8e1f52" stroke-width="1"/>
<path d="M491.5,563.9 L494.0,566.4 L491.5,568.9 L489.0,566.4 Z" fill="#8e1f52"/><rect x="483.5" y="586" width="4" height="4" fill="#8e1f52"/><rect x="496.5" y="585.5" width="4" height="4" fill="#8e1f52"/><rect x="489.8" y="597.3" width="3.4" height="3.4" fill="#b04a78"/><rect x="489.8" y="610.3" width="3.4" height="3.4" fill="#b04a78"/><rect x="483.5" y="635.5" width="4" height="4" fill="#8e1f52"/><rect x="496.5" y="635.5" width="4" height="4" fill="#8e1f52"/><rect x="489.7" y="628.2" width="3.6" height="3.6" fill="#8e1f52"/>
<text font-size="8.7" text-anchor="end" transform="translate(467.2,651.2) rotate(-45)">Low risk</text>
<text font-size="8.7" text-anchor="end" transform="translate(493.2,651.2) rotate(-45)">High risk</text>
</g>
<!-- BOTTOM END -->
</svg>
</body></html>
